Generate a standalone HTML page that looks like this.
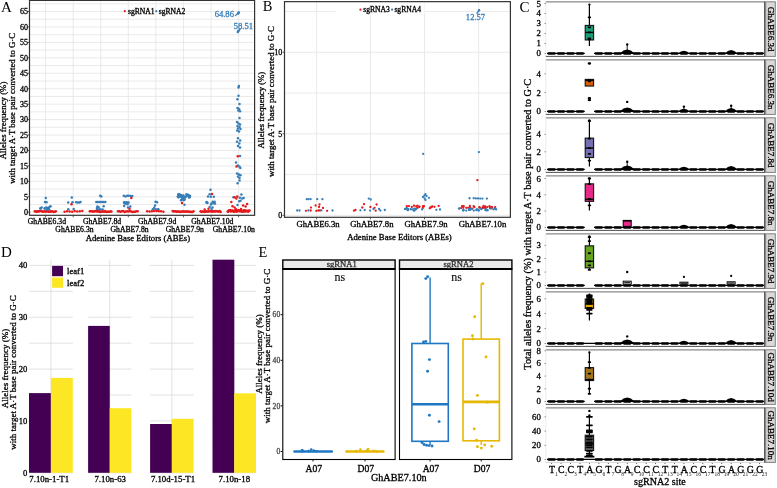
<!DOCTYPE html>
<html><head><meta charset="utf-8"><style>
html,body{margin:0;padding:0;background:#fff;}
body{width:777px;height:488px;overflow:hidden;}
svg{display:block;will-change:transform;}
svg text{font-family:"Liberation Serif",serif;}
</style></head><body>
<svg width="777" height="488" viewBox="0 0 777 488">
<rect x="0" y="0" width="777" height="488" fill="#fff"/>
<line x1="29.00" y1="472.80" x2="72.80" y2="472.80" stroke="#dadada" stroke-width="0.8" />
<line x1="29.00" y1="446.88" x2="72.80" y2="446.88" stroke="#dadada" stroke-width="0.8" />
<line x1="29.00" y1="420.95" x2="72.80" y2="420.95" stroke="#dadada" stroke-width="0.8" />
<line x1="29.00" y1="395.03" x2="72.80" y2="395.03" stroke="#dadada" stroke-width="0.8" />
<line x1="29.00" y1="369.10" x2="72.80" y2="369.10" stroke="#dadada" stroke-width="0.8" />
<line x1="29.00" y1="343.18" x2="72.80" y2="343.18" stroke="#dadada" stroke-width="0.8" />
<line x1="29.00" y1="317.25" x2="72.80" y2="317.25" stroke="#dadada" stroke-width="0.8" />
<line x1="29.00" y1="291.33" x2="72.80" y2="291.33" stroke="#dadada" stroke-width="0.8" />
<line x1="29.00" y1="265.40" x2="72.80" y2="265.40" stroke="#dadada" stroke-width="0.8" />
<line x1="50.90" y1="259.70" x2="50.90" y2="472.80" stroke="#dadada" stroke-width="0.8" />
<rect x="29.00" y="393.10" width="21.90" height="79.70" fill="#440154" stroke="none" stroke-width="1" />
<rect x="50.90" y="377.90" width="21.90" height="94.90" fill="#fde725" stroke="none" stroke-width="1" />
<line x1="88.10" y1="472.80" x2="131.40" y2="472.80" stroke="#dadada" stroke-width="0.8" />
<line x1="88.10" y1="446.88" x2="131.40" y2="446.88" stroke="#dadada" stroke-width="0.8" />
<line x1="88.10" y1="420.95" x2="131.40" y2="420.95" stroke="#dadada" stroke-width="0.8" />
<line x1="88.10" y1="395.03" x2="131.40" y2="395.03" stroke="#dadada" stroke-width="0.8" />
<line x1="88.10" y1="369.10" x2="131.40" y2="369.10" stroke="#dadada" stroke-width="0.8" />
<line x1="88.10" y1="343.18" x2="131.40" y2="343.18" stroke="#dadada" stroke-width="0.8" />
<line x1="88.10" y1="317.25" x2="131.40" y2="317.25" stroke="#dadada" stroke-width="0.8" />
<line x1="88.10" y1="291.33" x2="131.40" y2="291.33" stroke="#dadada" stroke-width="0.8" />
<line x1="88.10" y1="265.40" x2="131.40" y2="265.40" stroke="#dadada" stroke-width="0.8" />
<line x1="109.75" y1="259.70" x2="109.75" y2="472.80" stroke="#dadada" stroke-width="0.8" />
<rect x="88.10" y="325.90" width="21.65" height="146.90" fill="#440154" stroke="none" stroke-width="1" />
<rect x="109.75" y="408.20" width="21.65" height="64.60" fill="#fde725" stroke="none" stroke-width="1" />
<line x1="150.10" y1="472.80" x2="193.60" y2="472.80" stroke="#dadada" stroke-width="0.8" />
<line x1="150.10" y1="446.88" x2="193.60" y2="446.88" stroke="#dadada" stroke-width="0.8" />
<line x1="150.10" y1="420.95" x2="193.60" y2="420.95" stroke="#dadada" stroke-width="0.8" />
<line x1="150.10" y1="395.03" x2="193.60" y2="395.03" stroke="#dadada" stroke-width="0.8" />
<line x1="150.10" y1="369.10" x2="193.60" y2="369.10" stroke="#dadada" stroke-width="0.8" />
<line x1="150.10" y1="343.18" x2="193.60" y2="343.18" stroke="#dadada" stroke-width="0.8" />
<line x1="150.10" y1="317.25" x2="193.60" y2="317.25" stroke="#dadada" stroke-width="0.8" />
<line x1="150.10" y1="291.33" x2="193.60" y2="291.33" stroke="#dadada" stroke-width="0.8" />
<line x1="150.10" y1="265.40" x2="193.60" y2="265.40" stroke="#dadada" stroke-width="0.8" />
<line x1="171.85" y1="259.70" x2="171.85" y2="472.80" stroke="#dadada" stroke-width="0.8" />
<rect x="150.10" y="424.00" width="21.75" height="48.80" fill="#440154" stroke="none" stroke-width="1" />
<rect x="171.85" y="418.80" width="21.75" height="54.00" fill="#fde725" stroke="none" stroke-width="1" />
<line x1="212.50" y1="472.80" x2="256.00" y2="472.80" stroke="#dadada" stroke-width="0.8" />
<line x1="212.50" y1="446.88" x2="256.00" y2="446.88" stroke="#dadada" stroke-width="0.8" />
<line x1="212.50" y1="420.95" x2="256.00" y2="420.95" stroke="#dadada" stroke-width="0.8" />
<line x1="212.50" y1="395.03" x2="256.00" y2="395.03" stroke="#dadada" stroke-width="0.8" />
<line x1="212.50" y1="369.10" x2="256.00" y2="369.10" stroke="#dadada" stroke-width="0.8" />
<line x1="212.50" y1="343.18" x2="256.00" y2="343.18" stroke="#dadada" stroke-width="0.8" />
<line x1="212.50" y1="317.25" x2="256.00" y2="317.25" stroke="#dadada" stroke-width="0.8" />
<line x1="212.50" y1="291.33" x2="256.00" y2="291.33" stroke="#dadada" stroke-width="0.8" />
<line x1="212.50" y1="265.40" x2="256.00" y2="265.40" stroke="#dadada" stroke-width="0.8" />
<line x1="234.25" y1="259.70" x2="234.25" y2="472.80" stroke="#dadada" stroke-width="0.8" />
<rect x="212.50" y="259.70" width="21.75" height="213.10" fill="#440154" stroke="none" stroke-width="1" />
<rect x="234.25" y="393.30" width="21.75" height="79.50" fill="#fde725" stroke="none" stroke-width="1" />
<text x="27.40" y="475.80" font-size="8.6" text-anchor="end" fill="#000" stroke="#000" stroke-width="0.3" >0</text>
<text x="27.40" y="423.95" font-size="8.6" text-anchor="end" fill="#000" stroke="#000" stroke-width="0.3" >10</text>
<text x="27.40" y="372.10" font-size="8.6" text-anchor="end" fill="#000" stroke="#000" stroke-width="0.3" >20</text>
<text x="27.40" y="320.25" font-size="8.6" text-anchor="end" fill="#000" stroke="#000" stroke-width="0.3" >30</text>
<text x="27.40" y="268.40" font-size="8.6" text-anchor="end" fill="#000" stroke="#000" stroke-width="0.3" >40</text>
<text x="49.20" y="481.90" font-size="8.8" text-anchor="middle" fill="#000" stroke="#000" stroke-width="0.3" >7.10n-1-T1</text>
<text x="110.20" y="481.90" font-size="8.8" text-anchor="middle" fill="#000" stroke="#000" stroke-width="0.3" >7.10n-63</text>
<text x="173.00" y="481.90" font-size="8.8" text-anchor="middle" fill="#000" stroke="#000" stroke-width="0.3" >7.10d-15-T1</text>
<text x="234.30" y="481.90" font-size="8.8" text-anchor="middle" fill="#000" stroke="#000" stroke-width="0.3" >7.10n-18</text>
<rect x="52.10" y="265.90" width="10.90" height="10.30" fill="#440154" stroke="none" stroke-width="1" />
<text x="67.00" y="274.00" font-size="8.6" text-anchor="start" fill="#000" stroke="#000" stroke-width="0.3" >leaf1</text>
<rect x="52.10" y="277.50" width="10.90" height="10.30" fill="#fde725" stroke="none" stroke-width="1" />
<text x="67.00" y="285.60" font-size="8.6" text-anchor="start" fill="#000" stroke="#000" stroke-width="0.3" >leaf2</text>
<text x="7.60" y="368.50" font-size="9.0" text-anchor="middle" fill="#000" stroke="#000" stroke-width="0.3"  transform="rotate(-90 7.60 368.50)">Alleles frequency (%)</text>
<text x="15.60" y="372.50" font-size="9.0" text-anchor="middle" fill="#000" stroke="#000" stroke-width="0.3"  transform="rotate(-90 15.60 372.50)">with target A&#183;T base pair converted to G&#183;C</text>
<text x="1.10" y="256.80" font-size="15" text-anchor="start" fill="#000"  >D</text>
<rect x="282.80" y="269.00" width="112.30" height="190.50" fill="#fff" stroke="#000" stroke-width="1.1" />
<rect x="282.80" y="260.00" width="112.30" height="9.00" fill="#ebebeb" stroke="#000" stroke-width="1.4" />
<line x1="282.80" y1="269.00" x2="395.10" y2="269.00" stroke="#000" stroke-width="1.8" />
<text x="341.75" y="267.40" font-size="8.6" text-anchor="middle" fill="#333" stroke="#333" stroke-width="0.3" >sgRNA1</text>
<text x="339.85" y="280.50" font-size="12" text-anchor="middle" fill="#000" stroke="#000" stroke-width="0.1" >ns</text>
<rect x="399.50" y="269.00" width="112.40" height="190.50" fill="#fff" stroke="#000" stroke-width="1.1" />
<rect x="399.50" y="260.00" width="112.40" height="9.00" fill="#ebebeb" stroke="#000" stroke-width="1.4" />
<line x1="399.50" y1="269.00" x2="511.90" y2="269.00" stroke="#000" stroke-width="1.8" />
<text x="458.50" y="267.40" font-size="8.6" text-anchor="middle" fill="#333" stroke="#333" stroke-width="0.3" >sgRNA2</text>
<text x="456.60" y="280.50" font-size="12" text-anchor="middle" fill="#000" stroke="#000" stroke-width="0.1" >ns</text>
<line x1="294.50" y1="451.50" x2="331.80" y2="451.50" stroke="#1f78c1" stroke-width="2.6" stroke-linecap="round"/>
<circle cx="308.77" cy="451.12" r="1.3" fill="#1f78c1"/>
<circle cx="316.62" cy="451.32" r="1.3" fill="#1f78c1"/>
<circle cx="313.86" cy="450.59" r="1.3" fill="#1f78c1"/>
<circle cx="302.39" cy="450.23" r="1.3" fill="#1f78c1"/>
<circle cx="301.90" cy="450.42" r="1.3" fill="#1f78c1"/>
<circle cx="302.68" cy="451.27" r="1.3" fill="#1f78c1"/>
<circle cx="311.19" cy="449.43" r="1.3" fill="#1f78c1"/>
<line x1="346.40" y1="451.50" x2="383.40" y2="451.50" stroke="#e6b800" stroke-width="2.6" stroke-linecap="round"/>
<circle cx="355.97" cy="450.94" r="1.3" fill="#e6b800"/>
<circle cx="368.06" cy="449.13" r="1.3" fill="#e6b800"/>
<circle cx="366.85" cy="450.51" r="1.3" fill="#e6b800"/>
<circle cx="376.43" cy="451.38" r="1.3" fill="#e6b800"/>
<circle cx="373.60" cy="450.78" r="1.3" fill="#e6b800"/>
<circle cx="356.46" cy="451.21" r="1.3" fill="#e6b800"/>
<circle cx="360.40" cy="449.46" r="1.3" fill="#e6b800"/>
<line x1="430.10" y1="277.50" x2="430.10" y2="343.50" stroke="#1f78c1" stroke-width="1.4" />
<line x1="430.10" y1="441.30" x2="430.10" y2="445.00" stroke="#1f78c1" stroke-width="1.4" />
<rect x="411.90" y="343.50" width="36.40" height="97.80" fill="none" stroke="#1f78c1" stroke-width="1.6" />
<line x1="411.90" y1="404.30" x2="448.30" y2="404.30" stroke="#1f78c1" stroke-width="2.6" />
<line x1="481.20" y1="283.30" x2="481.20" y2="339.10" stroke="#e6b800" stroke-width="1.4" />
<line x1="481.20" y1="440.80" x2="481.20" y2="445.00" stroke="#e6b800" stroke-width="1.4" />
<rect x="463.00" y="339.10" width="36.40" height="101.70" fill="none" stroke="#e6b800" stroke-width="1.6" />
<line x1="463.00" y1="401.90" x2="499.40" y2="401.90" stroke="#e6b800" stroke-width="2.6" />
<circle cx="425.80" cy="278.60" r="1.45" fill="#1f78c1"/>
<circle cx="427.60" cy="276.80" r="1.45" fill="#1f78c1"/>
<circle cx="423.50" cy="342.00" r="1.45" fill="#1f78c1"/>
<circle cx="425.80" cy="341.40" r="1.45" fill="#1f78c1"/>
<circle cx="429.40" cy="359.60" r="1.45" fill="#1f78c1"/>
<circle cx="427.60" cy="371.20" r="1.45" fill="#1f78c1"/>
<circle cx="429.40" cy="415.30" r="1.45" fill="#1f78c1"/>
<circle cx="439.10" cy="421.60" r="1.45" fill="#1f78c1"/>
<circle cx="422.00" cy="442.50" r="1.45" fill="#1f78c1"/>
<circle cx="424.00" cy="444.50" r="1.45" fill="#1f78c1"/>
<circle cx="426.50" cy="445.20" r="1.45" fill="#1f78c1"/>
<circle cx="429.00" cy="445.60" r="1.45" fill="#1f78c1"/>
<circle cx="432.00" cy="446.00" r="1.45" fill="#1f78c1"/>
<circle cx="482.90" cy="283.60" r="1.45" fill="#e6b800"/>
<circle cx="474.70" cy="316.70" r="1.45" fill="#e6b800"/>
<circle cx="472.40" cy="335.70" r="1.45" fill="#e6b800"/>
<circle cx="473.00" cy="339.00" r="1.45" fill="#e6b800"/>
<circle cx="486.00" cy="356.90" r="1.45" fill="#e6b800"/>
<circle cx="477.40" cy="395.40" r="1.45" fill="#e6b800"/>
<circle cx="487.70" cy="402.20" r="1.45" fill="#e6b800"/>
<circle cx="474.20" cy="428.90" r="1.45" fill="#e6b800"/>
<circle cx="476.50" cy="440.30" r="1.45" fill="#e6b800"/>
<circle cx="484.70" cy="444.90" r="1.45" fill="#e6b800"/>
<circle cx="491.70" cy="446.30" r="1.45" fill="#e6b800"/>
<circle cx="477.40" cy="446.80" r="1.45" fill="#e6b800"/>
<circle cx="481.40" cy="448.10" r="1.45" fill="#e6b800"/>
<line x1="280.60" y1="451.50" x2="282.40" y2="451.50" stroke="#000" stroke-width="1.0" />
<text x="280.20" y="454.10" font-size="7.6" text-anchor="end" fill="#4d4d4d" stroke="#4d4d4d" stroke-width="0.3" >0</text>
<line x1="280.60" y1="405.90" x2="282.40" y2="405.90" stroke="#000" stroke-width="1.0" />
<text x="280.20" y="408.50" font-size="7.6" text-anchor="end" fill="#4d4d4d" stroke="#4d4d4d" stroke-width="0.3" >20</text>
<line x1="280.60" y1="360.30" x2="282.40" y2="360.30" stroke="#000" stroke-width="1.0" />
<text x="280.20" y="362.90" font-size="7.6" text-anchor="end" fill="#4d4d4d" stroke="#4d4d4d" stroke-width="0.3" >40</text>
<line x1="280.60" y1="314.70" x2="282.40" y2="314.70" stroke="#000" stroke-width="1.0" />
<text x="280.20" y="317.30" font-size="7.6" text-anchor="end" fill="#4d4d4d" stroke="#4d4d4d" stroke-width="0.3" >60</text>
<line x1="313.00" y1="459.50" x2="313.00" y2="461.50" stroke="#000" stroke-width="0.9" />
<text x="313.80" y="471.60" font-size="9.6" text-anchor="middle" fill="#000" stroke="#000" stroke-width="0.3" >A07</text>
<line x1="365.00" y1="459.50" x2="365.00" y2="461.50" stroke="#000" stroke-width="0.9" />
<text x="365.80" y="471.60" font-size="9.6" text-anchor="middle" fill="#000" stroke="#000" stroke-width="0.3" >D07</text>
<line x1="430.10" y1="459.50" x2="430.10" y2="461.50" stroke="#000" stroke-width="0.9" />
<text x="430.90" y="471.60" font-size="9.6" text-anchor="middle" fill="#000" stroke="#000" stroke-width="0.3" >A07</text>
<line x1="481.20" y1="459.50" x2="481.20" y2="461.50" stroke="#000" stroke-width="0.9" />
<text x="482.00" y="471.60" font-size="9.6" text-anchor="middle" fill="#000" stroke="#000" stroke-width="0.3" >D07</text>
<text x="398.80" y="481.20" font-size="10.2" text-anchor="middle" fill="#000" stroke="#000" stroke-width="0.3" >GhABE7.10n</text>
<text x="262.30" y="354.00" font-size="9.0" text-anchor="middle" fill="#000" stroke="#000" stroke-width="0.3"  transform="rotate(-90 262.30 354.00)">Alleles frequency (%)</text>
<text x="269.70" y="346.00" font-size="9.0" text-anchor="middle" fill="#000" stroke="#000" stroke-width="0.3"  transform="rotate(-90 269.70 346.00)">with target A&#183;T base pair converted to G&#183;C</text>
<text x="258.50" y="256.60" font-size="14.5" text-anchor="start" fill="#000"  >E</text>
<line x1="29.50" y1="212.20" x2="254.60" y2="212.20" stroke="#e4e4e4" stroke-width="0.8" />
<line x1="29.50" y1="204.48" x2="254.60" y2="204.48" stroke="#e4e4e4" stroke-width="0.8" />
<line x1="29.50" y1="196.76" x2="254.60" y2="196.76" stroke="#e4e4e4" stroke-width="0.8" />
<line x1="29.50" y1="189.05" x2="254.60" y2="189.05" stroke="#e4e4e4" stroke-width="0.8" />
<line x1="29.50" y1="181.33" x2="254.60" y2="181.33" stroke="#e4e4e4" stroke-width="0.8" />
<line x1="29.50" y1="173.61" x2="254.60" y2="173.61" stroke="#e4e4e4" stroke-width="0.8" />
<line x1="29.50" y1="165.89" x2="254.60" y2="165.89" stroke="#e4e4e4" stroke-width="0.8" />
<line x1="29.50" y1="158.18" x2="254.60" y2="158.18" stroke="#e4e4e4" stroke-width="0.8" />
<line x1="29.50" y1="150.46" x2="254.60" y2="150.46" stroke="#e4e4e4" stroke-width="0.8" />
<line x1="29.50" y1="142.74" x2="254.60" y2="142.74" stroke="#e4e4e4" stroke-width="0.8" />
<line x1="29.50" y1="135.02" x2="254.60" y2="135.02" stroke="#e4e4e4" stroke-width="0.8" />
<line x1="29.50" y1="127.31" x2="254.60" y2="127.31" stroke="#e4e4e4" stroke-width="0.8" />
<line x1="29.50" y1="119.59" x2="254.60" y2="119.59" stroke="#e4e4e4" stroke-width="0.8" />
<line x1="29.50" y1="111.87" x2="254.60" y2="111.87" stroke="#e4e4e4" stroke-width="0.8" />
<line x1="29.50" y1="104.15" x2="254.60" y2="104.15" stroke="#e4e4e4" stroke-width="0.8" />
<line x1="29.50" y1="96.44" x2="254.60" y2="96.44" stroke="#e4e4e4" stroke-width="0.8" />
<line x1="29.50" y1="88.72" x2="254.60" y2="88.72" stroke="#e4e4e4" stroke-width="0.8" />
<line x1="29.50" y1="81.00" x2="254.60" y2="81.00" stroke="#e4e4e4" stroke-width="0.8" />
<line x1="29.50" y1="73.28" x2="254.60" y2="73.28" stroke="#e4e4e4" stroke-width="0.8" />
<line x1="29.50" y1="65.57" x2="254.60" y2="65.57" stroke="#e4e4e4" stroke-width="0.8" />
<line x1="29.50" y1="57.85" x2="254.60" y2="57.85" stroke="#e4e4e4" stroke-width="0.8" />
<line x1="29.50" y1="50.13" x2="254.60" y2="50.13" stroke="#e4e4e4" stroke-width="0.8" />
<line x1="29.50" y1="42.41" x2="254.60" y2="42.41" stroke="#e4e4e4" stroke-width="0.8" />
<line x1="29.50" y1="34.70" x2="254.60" y2="34.70" stroke="#e4e4e4" stroke-width="0.8" />
<line x1="29.50" y1="26.98" x2="254.60" y2="26.98" stroke="#e4e4e4" stroke-width="0.8" />
<line x1="29.50" y1="19.26" x2="254.60" y2="19.26" stroke="#e4e4e4" stroke-width="0.8" />
<line x1="29.50" y1="11.54" x2="254.60" y2="11.54" stroke="#e4e4e4" stroke-width="0.8" />
<line x1="29.50" y1="3.83" x2="254.60" y2="3.83" stroke="#e4e4e4" stroke-width="0.8" />
<line x1="45.60" y1="0.40" x2="45.60" y2="215.30" stroke="#e4e4e4" stroke-width="0.8" />
<line x1="73.17" y1="0.40" x2="73.17" y2="215.30" stroke="#e4e4e4" stroke-width="0.8" />
<line x1="100.74" y1="0.40" x2="100.74" y2="215.30" stroke="#e4e4e4" stroke-width="0.8" />
<line x1="128.31" y1="0.40" x2="128.31" y2="215.30" stroke="#e4e4e4" stroke-width="0.8" />
<line x1="155.88" y1="0.40" x2="155.88" y2="215.30" stroke="#e4e4e4" stroke-width="0.8" />
<line x1="183.45" y1="0.40" x2="183.45" y2="215.30" stroke="#e4e4e4" stroke-width="0.8" />
<line x1="211.02" y1="0.40" x2="211.02" y2="215.30" stroke="#e4e4e4" stroke-width="0.8" />
<line x1="238.59" y1="0.40" x2="238.59" y2="215.30" stroke="#e4e4e4" stroke-width="0.8" />
<circle cx="34.80" cy="211.18" r="1.25" fill="#e41a1c"/>
<circle cx="35.80" cy="211.58" r="1.25" fill="#e41a1c"/>
<circle cx="36.80" cy="211.64" r="1.25" fill="#e41a1c"/>
<circle cx="37.80" cy="211.37" r="1.25" fill="#e41a1c"/>
<circle cx="38.80" cy="211.55" r="1.25" fill="#e41a1c"/>
<circle cx="39.80" cy="211.06" r="1.25" fill="#e41a1c"/>
<circle cx="40.80" cy="211.06" r="1.25" fill="#e41a1c"/>
<circle cx="41.80" cy="211.21" r="1.25" fill="#e41a1c"/>
<circle cx="42.80" cy="211.68" r="1.25" fill="#e41a1c"/>
<circle cx="43.80" cy="211.43" r="1.25" fill="#e41a1c"/>
<circle cx="44.80" cy="211.31" r="1.25" fill="#e41a1c"/>
<circle cx="45.80" cy="211.59" r="1.25" fill="#e41a1c"/>
<circle cx="46.80" cy="211.45" r="1.25" fill="#e41a1c"/>
<circle cx="47.80" cy="211.30" r="1.25" fill="#e41a1c"/>
<circle cx="48.80" cy="211.79" r="1.25" fill="#e41a1c"/>
<circle cx="49.80" cy="211.70" r="1.25" fill="#e41a1c"/>
<circle cx="50.80" cy="211.24" r="1.25" fill="#e41a1c"/>
<circle cx="51.80" cy="211.57" r="1.25" fill="#e41a1c"/>
<circle cx="52.80" cy="211.53" r="1.25" fill="#e41a1c"/>
<circle cx="53.80" cy="211.88" r="1.25" fill="#e41a1c"/>
<circle cx="54.80" cy="211.73" r="1.25" fill="#e41a1c"/>
<circle cx="55.80" cy="211.29" r="1.25" fill="#e41a1c"/>
<circle cx="45.80" cy="198.10" r="1.25" fill="#377eb8"/>
<circle cx="45.00" cy="202.10" r="1.25" fill="#377eb8"/>
<circle cx="46.50" cy="202.30" r="1.25" fill="#377eb8"/>
<circle cx="50.59" cy="206.24" r="1.25" fill="#377eb8"/>
<circle cx="44.52" cy="208.60" r="1.25" fill="#377eb8"/>
<circle cx="41.64" cy="207.61" r="1.25" fill="#377eb8"/>
<circle cx="40.42" cy="208.27" r="1.25" fill="#377eb8"/>
<circle cx="48.26" cy="207.92" r="1.25" fill="#377eb8"/>
<circle cx="49.46" cy="206.96" r="1.25" fill="#377eb8"/>
<circle cx="47.51" cy="208.00" r="1.25" fill="#377eb8"/>
<circle cx="46.26" cy="207.49" r="1.25" fill="#377eb8"/>
<circle cx="49.07" cy="209.30" r="1.25" fill="#377eb8"/>
<circle cx="45.12" cy="208.26" r="1.25" fill="#377eb8"/>
<circle cx="40.66" cy="208.40" r="1.25" fill="#377eb8"/>
<circle cx="46.99" cy="209.47" r="1.25" fill="#377eb8"/>
<circle cx="71.80" cy="197.40" r="1.25" fill="#377eb8"/>
<circle cx="68.20" cy="202.40" r="1.25" fill="#377eb8"/>
<circle cx="72.50" cy="202.20" r="1.25" fill="#377eb8"/>
<circle cx="76.20" cy="202.30" r="1.25" fill="#377eb8"/>
<circle cx="77.80" cy="202.60" r="1.25" fill="#377eb8"/>
<circle cx="79.30" cy="202.40" r="1.25" fill="#377eb8"/>
<circle cx="80.50" cy="202.10" r="1.25" fill="#377eb8"/>
<circle cx="71.50" cy="204.30" r="1.25" fill="#e41a1c"/>
<circle cx="68.30" cy="209.30" r="1.25" fill="#377eb8"/>
<circle cx="73.70" cy="209.00" r="1.25" fill="#377eb8"/>
<circle cx="64.60" cy="211.82" r="1.25" fill="#e41a1c"/>
<circle cx="67.13" cy="211.28" r="1.25" fill="#e41a1c"/>
<circle cx="69.66" cy="211.39" r="1.25" fill="#e41a1c"/>
<circle cx="72.19" cy="211.67" r="1.25" fill="#e41a1c"/>
<circle cx="74.71" cy="211.02" r="1.25" fill="#e41a1c"/>
<circle cx="77.24" cy="211.46" r="1.25" fill="#e41a1c"/>
<circle cx="79.77" cy="211.17" r="1.25" fill="#e41a1c"/>
<circle cx="82.30" cy="211.12" r="1.25" fill="#e41a1c"/>
<circle cx="100.20" cy="195.70" r="1.25" fill="#377eb8"/>
<circle cx="101.30" cy="196.60" r="1.25" fill="#377eb8"/>
<circle cx="96.30" cy="201.90" r="1.25" fill="#377eb8"/>
<circle cx="97.80" cy="201.90" r="1.25" fill="#377eb8"/>
<circle cx="99.30" cy="201.90" r="1.25" fill="#377eb8"/>
<circle cx="100.80" cy="201.90" r="1.25" fill="#377eb8"/>
<circle cx="102.30" cy="201.90" r="1.25" fill="#377eb8"/>
<circle cx="103.80" cy="201.90" r="1.25" fill="#377eb8"/>
<circle cx="105.30" cy="201.90" r="1.25" fill="#377eb8"/>
<circle cx="96.94" cy="208.96" r="1.25" fill="#377eb8"/>
<circle cx="97.47" cy="206.61" r="1.25" fill="#377eb8"/>
<circle cx="99.43" cy="209.42" r="1.25" fill="#377eb8"/>
<circle cx="97.10" cy="207.52" r="1.25" fill="#377eb8"/>
<circle cx="100.62" cy="209.48" r="1.25" fill="#377eb8"/>
<circle cx="102.64" cy="209.39" r="1.25" fill="#377eb8"/>
<circle cx="98.59" cy="207.37" r="1.25" fill="#377eb8"/>
<circle cx="99.19" cy="209.48" r="1.25" fill="#377eb8"/>
<circle cx="103.68" cy="206.18" r="1.25" fill="#377eb8"/>
<circle cx="89.80" cy="211.18" r="1.25" fill="#e41a1c"/>
<circle cx="90.83" cy="211.23" r="1.25" fill="#e41a1c"/>
<circle cx="91.86" cy="211.23" r="1.25" fill="#e41a1c"/>
<circle cx="92.89" cy="211.48" r="1.25" fill="#e41a1c"/>
<circle cx="93.91" cy="211.59" r="1.25" fill="#e41a1c"/>
<circle cx="94.94" cy="211.26" r="1.25" fill="#e41a1c"/>
<circle cx="95.97" cy="211.00" r="1.25" fill="#e41a1c"/>
<circle cx="97.00" cy="211.42" r="1.25" fill="#e41a1c"/>
<circle cx="98.03" cy="211.37" r="1.25" fill="#e41a1c"/>
<circle cx="99.06" cy="211.57" r="1.25" fill="#e41a1c"/>
<circle cx="100.09" cy="211.95" r="1.25" fill="#e41a1c"/>
<circle cx="101.11" cy="211.69" r="1.25" fill="#e41a1c"/>
<circle cx="102.14" cy="211.52" r="1.25" fill="#e41a1c"/>
<circle cx="103.17" cy="211.62" r="1.25" fill="#e41a1c"/>
<circle cx="104.20" cy="211.68" r="1.25" fill="#e41a1c"/>
<circle cx="105.23" cy="211.05" r="1.25" fill="#e41a1c"/>
<circle cx="106.26" cy="211.90" r="1.25" fill="#e41a1c"/>
<circle cx="107.29" cy="211.78" r="1.25" fill="#e41a1c"/>
<circle cx="108.31" cy="211.87" r="1.25" fill="#e41a1c"/>
<circle cx="109.34" cy="211.80" r="1.25" fill="#e41a1c"/>
<circle cx="110.37" cy="211.39" r="1.25" fill="#e41a1c"/>
<circle cx="111.40" cy="211.40" r="1.25" fill="#e41a1c"/>
<circle cx="123.80" cy="195.81" r="1.25" fill="#377eb8"/>
<circle cx="125.50" cy="196.40" r="1.25" fill="#377eb8"/>
<circle cx="127.20" cy="195.77" r="1.25" fill="#377eb8"/>
<circle cx="128.90" cy="195.77" r="1.25" fill="#377eb8"/>
<circle cx="130.60" cy="195.93" r="1.25" fill="#377eb8"/>
<circle cx="132.30" cy="195.88" r="1.25" fill="#377eb8"/>
<circle cx="131.30" cy="198.00" r="1.25" fill="#e41a1c"/>
<circle cx="126.55" cy="202.14" r="1.25" fill="#377eb8"/>
<circle cx="124.00" cy="202.60" r="1.25" fill="#377eb8"/>
<circle cx="124.76" cy="203.57" r="1.25" fill="#377eb8"/>
<circle cx="124.19" cy="205.92" r="1.25" fill="#377eb8"/>
<circle cx="128.61" cy="202.58" r="1.25" fill="#377eb8"/>
<circle cx="125.89" cy="203.50" r="1.25" fill="#377eb8"/>
<circle cx="126.73" cy="202.47" r="1.25" fill="#377eb8"/>
<circle cx="130.37" cy="206.47" r="1.25" fill="#377eb8"/>
<circle cx="127.49" cy="204.13" r="1.25" fill="#377eb8"/>
<circle cx="124.64" cy="202.37" r="1.25" fill="#377eb8"/>
<circle cx="128.00" cy="207.60" r="1.25" fill="#377eb8"/>
<circle cx="129.50" cy="208.80" r="1.25" fill="#e41a1c"/>
<circle cx="118.00" cy="211.34" r="1.25" fill="#e41a1c"/>
<circle cx="119.31" cy="211.26" r="1.25" fill="#e41a1c"/>
<circle cx="120.63" cy="211.83" r="1.25" fill="#e41a1c"/>
<circle cx="121.94" cy="211.16" r="1.25" fill="#e41a1c"/>
<circle cx="123.25" cy="211.02" r="1.25" fill="#e41a1c"/>
<circle cx="124.57" cy="211.95" r="1.25" fill="#e41a1c"/>
<circle cx="125.88" cy="211.53" r="1.25" fill="#e41a1c"/>
<circle cx="127.19" cy="211.15" r="1.25" fill="#e41a1c"/>
<circle cx="128.51" cy="211.54" r="1.25" fill="#e41a1c"/>
<circle cx="129.82" cy="211.03" r="1.25" fill="#e41a1c"/>
<circle cx="131.13" cy="211.53" r="1.25" fill="#e41a1c"/>
<circle cx="132.45" cy="211.98" r="1.25" fill="#e41a1c"/>
<circle cx="133.76" cy="211.86" r="1.25" fill="#e41a1c"/>
<circle cx="135.07" cy="211.70" r="1.25" fill="#e41a1c"/>
<circle cx="136.39" cy="211.26" r="1.25" fill="#e41a1c"/>
<circle cx="137.70" cy="211.37" r="1.25" fill="#e41a1c"/>
<circle cx="155.50" cy="201.80" r="1.25" fill="#377eb8"/>
<circle cx="157.00" cy="202.30" r="1.25" fill="#377eb8"/>
<circle cx="155.00" cy="205.50" r="1.25" fill="#377eb8"/>
<circle cx="152.84" cy="209.32" r="1.25" fill="#377eb8"/>
<circle cx="155.76" cy="209.34" r="1.25" fill="#377eb8"/>
<circle cx="154.14" cy="207.67" r="1.25" fill="#377eb8"/>
<circle cx="157.99" cy="209.95" r="1.25" fill="#377eb8"/>
<circle cx="158.32" cy="209.42" r="1.25" fill="#377eb8"/>
<circle cx="158.05" cy="209.22" r="1.25" fill="#377eb8"/>
<circle cx="147.20" cy="211.23" r="1.25" fill="#e41a1c"/>
<circle cx="149.51" cy="211.52" r="1.25" fill="#e41a1c"/>
<circle cx="151.83" cy="211.36" r="1.25" fill="#e41a1c"/>
<circle cx="154.14" cy="211.03" r="1.25" fill="#e41a1c"/>
<circle cx="156.46" cy="211.03" r="1.25" fill="#e41a1c"/>
<circle cx="158.77" cy="211.28" r="1.25" fill="#e41a1c"/>
<circle cx="161.09" cy="211.26" r="1.25" fill="#e41a1c"/>
<circle cx="163.40" cy="211.69" r="1.25" fill="#e41a1c"/>
<circle cx="189.61" cy="196.00" r="1.25" fill="#377eb8"/>
<circle cx="189.34" cy="197.56" r="1.25" fill="#377eb8"/>
<circle cx="189.59" cy="195.75" r="1.25" fill="#377eb8"/>
<circle cx="179.60" cy="194.63" r="1.25" fill="#377eb8"/>
<circle cx="179.28" cy="194.63" r="1.25" fill="#377eb8"/>
<circle cx="185.09" cy="197.17" r="1.25" fill="#377eb8"/>
<circle cx="188.03" cy="195.74" r="1.25" fill="#377eb8"/>
<circle cx="185.48" cy="196.75" r="1.25" fill="#377eb8"/>
<circle cx="177.75" cy="196.53" r="1.25" fill="#377eb8"/>
<circle cx="188.97" cy="196.91" r="1.25" fill="#377eb8"/>
<circle cx="186.80" cy="195.54" r="1.25" fill="#377eb8"/>
<circle cx="179.03" cy="196.83" r="1.25" fill="#377eb8"/>
<circle cx="181.12" cy="196.76" r="1.25" fill="#377eb8"/>
<circle cx="189.81" cy="195.91" r="1.25" fill="#377eb8"/>
<circle cx="182.06" cy="197.37" r="1.25" fill="#377eb8"/>
<circle cx="186.46" cy="194.25" r="1.25" fill="#377eb8"/>
<circle cx="178.33" cy="194.72" r="1.25" fill="#377eb8"/>
<circle cx="188.91" cy="196.98" r="1.25" fill="#377eb8"/>
<circle cx="178.59" cy="196.99" r="1.25" fill="#377eb8"/>
<circle cx="189.93" cy="196.66" r="1.25" fill="#377eb8"/>
<circle cx="181.37" cy="195.69" r="1.25" fill="#377eb8"/>
<circle cx="178.38" cy="194.23" r="1.25" fill="#377eb8"/>
<circle cx="189.80" cy="196.62" r="1.25" fill="#377eb8"/>
<circle cx="183.76" cy="197.31" r="1.25" fill="#377eb8"/>
<circle cx="182.50" cy="197.04" r="1.25" fill="#377eb8"/>
<circle cx="187.84" cy="194.73" r="1.25" fill="#377eb8"/>
<circle cx="180.02" cy="194.80" r="1.25" fill="#377eb8"/>
<circle cx="179.87" cy="195.98" r="1.25" fill="#377eb8"/>
<circle cx="180.13" cy="195.29" r="1.25" fill="#377eb8"/>
<circle cx="178.38" cy="197.29" r="1.25" fill="#377eb8"/>
<circle cx="181.41" cy="195.30" r="1.25" fill="#377eb8"/>
<circle cx="184.53" cy="197.18" r="1.25" fill="#377eb8"/>
<circle cx="182.32" cy="197.24" r="1.25" fill="#377eb8"/>
<circle cx="183.42" cy="195.54" r="1.25" fill="#377eb8"/>
<circle cx="183.62" cy="197.57" r="1.25" fill="#377eb8"/>
<circle cx="183.20" cy="198.14" r="1.25" fill="#377eb8"/>
<circle cx="181.02" cy="200.30" r="1.25" fill="#377eb8"/>
<circle cx="181.86" cy="199.16" r="1.25" fill="#377eb8"/>
<circle cx="184.63" cy="199.45" r="1.25" fill="#377eb8"/>
<circle cx="182.63" cy="199.31" r="1.25" fill="#377eb8"/>
<circle cx="183.78" cy="200.24" r="1.25" fill="#377eb8"/>
<circle cx="182.00" cy="203.00" r="1.25" fill="#e41a1c"/>
<circle cx="184.50" cy="204.80" r="1.25" fill="#377eb8"/>
<circle cx="172.60" cy="211.11" r="1.25" fill="#e41a1c"/>
<circle cx="173.60" cy="211.56" r="1.25" fill="#e41a1c"/>
<circle cx="174.59" cy="211.25" r="1.25" fill="#e41a1c"/>
<circle cx="175.59" cy="211.28" r="1.25" fill="#e41a1c"/>
<circle cx="176.58" cy="211.77" r="1.25" fill="#e41a1c"/>
<circle cx="177.58" cy="211.51" r="1.25" fill="#e41a1c"/>
<circle cx="178.57" cy="211.56" r="1.25" fill="#e41a1c"/>
<circle cx="179.57" cy="211.76" r="1.25" fill="#e41a1c"/>
<circle cx="180.56" cy="211.91" r="1.25" fill="#e41a1c"/>
<circle cx="181.56" cy="211.44" r="1.25" fill="#e41a1c"/>
<circle cx="182.55" cy="211.61" r="1.25" fill="#e41a1c"/>
<circle cx="183.55" cy="211.51" r="1.25" fill="#e41a1c"/>
<circle cx="184.54" cy="211.51" r="1.25" fill="#e41a1c"/>
<circle cx="185.54" cy="211.69" r="1.25" fill="#e41a1c"/>
<circle cx="186.53" cy="211.45" r="1.25" fill="#e41a1c"/>
<circle cx="187.53" cy="211.53" r="1.25" fill="#e41a1c"/>
<circle cx="188.52" cy="211.48" r="1.25" fill="#e41a1c"/>
<circle cx="189.52" cy="211.94" r="1.25" fill="#e41a1c"/>
<circle cx="190.51" cy="211.70" r="1.25" fill="#e41a1c"/>
<circle cx="191.51" cy="211.88" r="1.25" fill="#e41a1c"/>
<circle cx="192.50" cy="211.94" r="1.25" fill="#e41a1c"/>
<circle cx="193.50" cy="211.26" r="1.25" fill="#e41a1c"/>
<circle cx="210.50" cy="189.80" r="1.25" fill="#377eb8"/>
<circle cx="209.70" cy="194.30" r="1.25" fill="#377eb8"/>
<circle cx="212.00" cy="194.00" r="1.25" fill="#e41a1c"/>
<circle cx="208.00" cy="196.40" r="1.25" fill="#377eb8"/>
<circle cx="210.80" cy="196.80" r="1.25" fill="#377eb8"/>
<circle cx="213.80" cy="196.80" r="1.25" fill="#377eb8"/>
<circle cx="211.62" cy="203.39" r="1.25" fill="#377eb8"/>
<circle cx="214.54" cy="201.77" r="1.25" fill="#377eb8"/>
<circle cx="207.06" cy="202.38" r="1.25" fill="#377eb8"/>
<circle cx="206.55" cy="201.98" r="1.25" fill="#377eb8"/>
<circle cx="206.56" cy="202.84" r="1.25" fill="#377eb8"/>
<circle cx="213.95" cy="203.29" r="1.25" fill="#377eb8"/>
<circle cx="207.41" cy="202.93" r="1.25" fill="#377eb8"/>
<circle cx="212.67" cy="201.79" r="1.25" fill="#377eb8"/>
<circle cx="214.98" cy="203.44" r="1.25" fill="#377eb8"/>
<circle cx="211.00" cy="204.50" r="1.25" fill="#377eb8"/>
<circle cx="209.70" cy="207.00" r="1.25" fill="#377eb8"/>
<circle cx="212.50" cy="207.50" r="1.25" fill="#377eb8"/>
<circle cx="211.50" cy="209.00" r="1.25" fill="#377eb8"/>
<circle cx="204.70" cy="209.50" r="1.25" fill="#e41a1c"/>
<circle cx="208.50" cy="208.80" r="1.25" fill="#e41a1c"/>
<circle cx="200.60" cy="211.22" r="1.25" fill="#e41a1c"/>
<circle cx="201.56" cy="211.95" r="1.25" fill="#e41a1c"/>
<circle cx="202.51" cy="211.40" r="1.25" fill="#e41a1c"/>
<circle cx="203.47" cy="211.49" r="1.25" fill="#e41a1c"/>
<circle cx="204.43" cy="211.99" r="1.25" fill="#e41a1c"/>
<circle cx="205.39" cy="211.83" r="1.25" fill="#e41a1c"/>
<circle cx="206.34" cy="211.16" r="1.25" fill="#e41a1c"/>
<circle cx="207.30" cy="211.43" r="1.25" fill="#e41a1c"/>
<circle cx="208.26" cy="211.52" r="1.25" fill="#e41a1c"/>
<circle cx="209.21" cy="211.34" r="1.25" fill="#e41a1c"/>
<circle cx="210.17" cy="211.20" r="1.25" fill="#e41a1c"/>
<circle cx="211.13" cy="211.32" r="1.25" fill="#e41a1c"/>
<circle cx="212.09" cy="211.72" r="1.25" fill="#e41a1c"/>
<circle cx="213.04" cy="211.02" r="1.25" fill="#e41a1c"/>
<circle cx="214.00" cy="211.55" r="1.25" fill="#e41a1c"/>
<circle cx="214.96" cy="211.44" r="1.25" fill="#e41a1c"/>
<circle cx="215.91" cy="211.02" r="1.25" fill="#e41a1c"/>
<circle cx="216.87" cy="211.33" r="1.25" fill="#e41a1c"/>
<circle cx="217.83" cy="211.62" r="1.25" fill="#e41a1c"/>
<circle cx="218.79" cy="211.51" r="1.25" fill="#e41a1c"/>
<circle cx="219.74" cy="211.06" r="1.25" fill="#e41a1c"/>
<circle cx="220.70" cy="211.99" r="1.25" fill="#e41a1c"/>
<circle cx="238.70" cy="12.60" r="1.25" fill="#377eb8"/>
<circle cx="238.20" cy="13.60" r="1.25" fill="#377eb8"/>
<circle cx="238.40" cy="30.80" r="1.25" fill="#377eb8"/>
<circle cx="237.80" cy="32.00" r="1.25" fill="#377eb8"/>
<circle cx="238.90" cy="86.00" r="1.25" fill="#377eb8"/>
<circle cx="238.50" cy="87.50" r="1.25" fill="#377eb8"/>
<circle cx="238.50" cy="95.70" r="1.25" fill="#377eb8"/>
<circle cx="237.50" cy="99.30" r="1.25" fill="#377eb8"/>
<circle cx="239.50" cy="104.00" r="1.25" fill="#377eb8"/>
<circle cx="237.50" cy="108.00" r="1.25" fill="#377eb8"/>
<circle cx="239.20" cy="109.00" r="1.25" fill="#377eb8"/>
<circle cx="238.30" cy="110.50" r="1.25" fill="#377eb8"/>
<circle cx="240.00" cy="111.30" r="1.25" fill="#377eb8"/>
<circle cx="239.50" cy="118.00" r="1.25" fill="#377eb8"/>
<circle cx="237.00" cy="122.00" r="1.25" fill="#377eb8"/>
<circle cx="238.50" cy="123.50" r="1.25" fill="#377eb8"/>
<circle cx="240.00" cy="124.50" r="1.25" fill="#377eb8"/>
<circle cx="237.50" cy="126.00" r="1.25" fill="#377eb8"/>
<circle cx="239.50" cy="127.00" r="1.25" fill="#377eb8"/>
<circle cx="238.00" cy="128.50" r="1.25" fill="#377eb8"/>
<circle cx="240.50" cy="129.00" r="1.25" fill="#377eb8"/>
<circle cx="237.20" cy="130.50" r="1.25" fill="#377eb8"/>
<circle cx="239.00" cy="131.50" r="1.25" fill="#377eb8"/>
<circle cx="238.00" cy="138.20" r="1.25" fill="#377eb8"/>
<circle cx="240.20" cy="140.50" r="1.25" fill="#377eb8"/>
<circle cx="237.00" cy="141.80" r="1.25" fill="#377eb8"/>
<circle cx="239.30" cy="143.50" r="1.25" fill="#377eb8"/>
<circle cx="238.00" cy="146.00" r="1.25" fill="#377eb8"/>
<circle cx="240.00" cy="147.50" r="1.25" fill="#377eb8"/>
<circle cx="240.00" cy="156.00" r="1.25" fill="#377eb8"/>
<circle cx="236.00" cy="162.60" r="1.25" fill="#377eb8"/>
<circle cx="238.00" cy="165.50" r="1.25" fill="#377eb8"/>
<circle cx="239.50" cy="166.70" r="1.25" fill="#377eb8"/>
<circle cx="240.30" cy="168.00" r="1.25" fill="#377eb8"/>
<circle cx="237.00" cy="173.60" r="1.25" fill="#377eb8"/>
<circle cx="239.00" cy="174.50" r="1.25" fill="#377eb8"/>
<circle cx="240.50" cy="175.20" r="1.25" fill="#377eb8"/>
<circle cx="238.00" cy="176.50" r="1.25" fill="#377eb8"/>
<circle cx="239.50" cy="178.00" r="1.25" fill="#377eb8"/>
<circle cx="237.60" cy="183.30" r="1.25" fill="#377eb8"/>
<circle cx="239.50" cy="180.40" r="1.25" fill="#377eb8"/>
<circle cx="241.40" cy="194.50" r="1.25" fill="#377eb8"/>
<circle cx="233.50" cy="197.30" r="1.25" fill="#377eb8"/>
<circle cx="239.90" cy="197.80" r="1.25" fill="#377eb8"/>
<circle cx="242.30" cy="198.60" r="1.25" fill="#377eb8"/>
<circle cx="243.60" cy="198.10" r="1.25" fill="#377eb8"/>
<circle cx="240.50" cy="200.80" r="1.25" fill="#377eb8"/>
<circle cx="239.20" cy="201.20" r="1.25" fill="#377eb8"/>
<circle cx="237.50" cy="205.00" r="1.25" fill="#377eb8"/>
<circle cx="237.80" cy="156.20" r="1.25" fill="#e41a1c"/>
<circle cx="236.50" cy="166.40" r="1.25" fill="#e41a1c"/>
<circle cx="234.70" cy="197.20" r="1.25" fill="#e41a1c"/>
<circle cx="236.40" cy="198.40" r="1.25" fill="#e41a1c"/>
<circle cx="237.30" cy="196.60" r="1.25" fill="#e41a1c"/>
<circle cx="231.30" cy="201.90" r="1.25" fill="#e41a1c"/>
<circle cx="232.50" cy="206.30" r="1.25" fill="#e41a1c"/>
<circle cx="247.10" cy="204.00" r="1.25" fill="#e41a1c"/>
<circle cx="243.10" cy="205.40" r="1.25" fill="#e41a1c"/>
<circle cx="245.60" cy="206.60" r="1.25" fill="#e41a1c"/>
<circle cx="234.60" cy="207.60" r="1.25" fill="#e41a1c"/>
<circle cx="241.00" cy="209.00" r="1.25" fill="#e41a1c"/>
<circle cx="236.00" cy="209.30" r="1.25" fill="#e41a1c"/>
<circle cx="227.60" cy="211.46" r="1.25" fill="#e41a1c"/>
<circle cx="228.26" cy="211.75" r="1.25" fill="#e41a1c"/>
<circle cx="228.93" cy="210.37" r="1.25" fill="#e41a1c"/>
<circle cx="229.59" cy="210.62" r="1.25" fill="#e41a1c"/>
<circle cx="230.25" cy="210.26" r="1.25" fill="#e41a1c"/>
<circle cx="230.92" cy="211.45" r="1.25" fill="#e41a1c"/>
<circle cx="231.58" cy="210.63" r="1.25" fill="#e41a1c"/>
<circle cx="232.25" cy="210.41" r="1.25" fill="#e41a1c"/>
<circle cx="232.91" cy="210.88" r="1.25" fill="#e41a1c"/>
<circle cx="233.57" cy="211.66" r="1.25" fill="#e41a1c"/>
<circle cx="234.24" cy="211.51" r="1.25" fill="#e41a1c"/>
<circle cx="234.90" cy="210.61" r="1.25" fill="#e41a1c"/>
<circle cx="235.56" cy="210.44" r="1.25" fill="#e41a1c"/>
<circle cx="236.23" cy="211.67" r="1.25" fill="#e41a1c"/>
<circle cx="236.89" cy="211.11" r="1.25" fill="#e41a1c"/>
<circle cx="237.55" cy="211.32" r="1.25" fill="#e41a1c"/>
<circle cx="238.22" cy="210.34" r="1.25" fill="#e41a1c"/>
<circle cx="238.88" cy="210.29" r="1.25" fill="#e41a1c"/>
<circle cx="239.55" cy="211.30" r="1.25" fill="#e41a1c"/>
<circle cx="240.21" cy="210.88" r="1.25" fill="#e41a1c"/>
<circle cx="240.87" cy="210.32" r="1.25" fill="#e41a1c"/>
<circle cx="241.54" cy="211.70" r="1.25" fill="#e41a1c"/>
<circle cx="242.20" cy="211.22" r="1.25" fill="#e41a1c"/>
<circle cx="242.86" cy="211.48" r="1.25" fill="#e41a1c"/>
<circle cx="243.53" cy="210.33" r="1.25" fill="#e41a1c"/>
<circle cx="244.19" cy="211.57" r="1.25" fill="#e41a1c"/>
<circle cx="244.85" cy="210.31" r="1.25" fill="#e41a1c"/>
<circle cx="245.52" cy="211.58" r="1.25" fill="#e41a1c"/>
<circle cx="246.18" cy="210.93" r="1.25" fill="#e41a1c"/>
<circle cx="246.85" cy="210.74" r="1.25" fill="#e41a1c"/>
<circle cx="247.51" cy="211.08" r="1.25" fill="#e41a1c"/>
<circle cx="248.17" cy="211.68" r="1.25" fill="#e41a1c"/>
<circle cx="248.84" cy="210.63" r="1.25" fill="#e41a1c"/>
<circle cx="249.50" cy="210.41" r="1.25" fill="#e41a1c"/>
<line x1="235.20" y1="15.90" x2="239.40" y2="11.70" stroke="#377eb8" stroke-width="1.3" />
<line x1="240.30" y1="28.60" x2="238.00" y2="32.40" stroke="#377eb8" stroke-width="1.3" />
<text x="224.30" y="17.40" font-size="8.6" text-anchor="middle" fill="#377eb8" stroke="#377eb8" stroke-width="0.3" >64.86</text>
<text x="243.40" y="29.20" font-size="8.6" text-anchor="middle" fill="#377eb8" stroke="#377eb8" stroke-width="0.3" >58.51</text>
<circle cx="124.80" cy="11.20" r="1.1" fill="#e41a1c"/>
<text x="128.00" y="13.90" font-size="7.6" text-anchor="start" fill="#000" stroke="#000" stroke-width="0.3" >sgRNA1</text>
<circle cx="156.30" cy="11.20" r="1.1" fill="#377eb8"/>
<text x="158.70" y="13.90" font-size="7.6" text-anchor="start" fill="#000" stroke="#000" stroke-width="0.3" >sgRNA2</text>
<rect x="29.50" y="0.40" width="225.10" height="214.90" fill="none" stroke="#333333" stroke-width="1.2" />
<line x1="27.50" y1="212.20" x2="29.50" y2="212.20" stroke="#333333" stroke-width="0.8" />
<text x="28.00" y="215.00" font-size="8" text-anchor="end" fill="#000" stroke="#000" stroke-width="0.3" >0</text>
<line x1="27.50" y1="196.76" x2="29.50" y2="196.76" stroke="#333333" stroke-width="0.8" />
<text x="28.00" y="199.56" font-size="8" text-anchor="end" fill="#000" stroke="#000" stroke-width="0.3" >5</text>
<line x1="27.50" y1="181.33" x2="29.50" y2="181.33" stroke="#333333" stroke-width="0.8" />
<text x="28.00" y="184.13" font-size="8" text-anchor="end" fill="#000" stroke="#000" stroke-width="0.3" >10</text>
<line x1="27.50" y1="165.89" x2="29.50" y2="165.89" stroke="#333333" stroke-width="0.8" />
<text x="28.00" y="168.69" font-size="8" text-anchor="end" fill="#000" stroke="#000" stroke-width="0.3" >15</text>
<line x1="27.50" y1="150.46" x2="29.50" y2="150.46" stroke="#333333" stroke-width="0.8" />
<text x="28.00" y="153.26" font-size="8" text-anchor="end" fill="#000" stroke="#000" stroke-width="0.3" >20</text>
<line x1="27.50" y1="135.02" x2="29.50" y2="135.02" stroke="#333333" stroke-width="0.8" />
<text x="28.00" y="137.82" font-size="8" text-anchor="end" fill="#000" stroke="#000" stroke-width="0.3" >25</text>
<line x1="27.50" y1="119.59" x2="29.50" y2="119.59" stroke="#333333" stroke-width="0.8" />
<text x="28.00" y="122.39" font-size="8" text-anchor="end" fill="#000" stroke="#000" stroke-width="0.3" >30</text>
<line x1="27.50" y1="104.15" x2="29.50" y2="104.15" stroke="#333333" stroke-width="0.8" />
<text x="28.00" y="106.95" font-size="8" text-anchor="end" fill="#000" stroke="#000" stroke-width="0.3" >35</text>
<line x1="27.50" y1="88.72" x2="29.50" y2="88.72" stroke="#333333" stroke-width="0.8" />
<text x="28.00" y="91.52" font-size="8" text-anchor="end" fill="#000" stroke="#000" stroke-width="0.3" >40</text>
<line x1="27.50" y1="73.28" x2="29.50" y2="73.28" stroke="#333333" stroke-width="0.8" />
<text x="28.00" y="76.08" font-size="8" text-anchor="end" fill="#000" stroke="#000" stroke-width="0.3" >45</text>
<line x1="27.50" y1="57.85" x2="29.50" y2="57.85" stroke="#333333" stroke-width="0.8" />
<text x="28.00" y="60.65" font-size="8" text-anchor="end" fill="#000" stroke="#000" stroke-width="0.3" >50</text>
<line x1="27.50" y1="42.41" x2="29.50" y2="42.41" stroke="#333333" stroke-width="0.8" />
<text x="28.00" y="45.21" font-size="8" text-anchor="end" fill="#000" stroke="#000" stroke-width="0.3" >55</text>
<line x1="27.50" y1="26.98" x2="29.50" y2="26.98" stroke="#333333" stroke-width="0.8" />
<text x="28.00" y="29.78" font-size="8" text-anchor="end" fill="#000" stroke="#000" stroke-width="0.3" >60</text>
<line x1="27.50" y1="11.54" x2="29.50" y2="11.54" stroke="#333333" stroke-width="0.8" />
<text x="28.00" y="14.34" font-size="8" text-anchor="end" fill="#000" stroke="#000" stroke-width="0.3" >65</text>
<line x1="45.60" y1="215.30" x2="45.60" y2="217.30" stroke="#333333" stroke-width="0.8" />
<line x1="73.17" y1="215.30" x2="73.17" y2="217.30" stroke="#333333" stroke-width="0.8" />
<line x1="100.74" y1="215.30" x2="100.74" y2="217.30" stroke="#333333" stroke-width="0.8" />
<line x1="128.31" y1="215.30" x2="128.31" y2="217.30" stroke="#333333" stroke-width="0.8" />
<line x1="155.88" y1="215.30" x2="155.88" y2="217.30" stroke="#333333" stroke-width="0.8" />
<line x1="183.45" y1="215.30" x2="183.45" y2="217.30" stroke="#333333" stroke-width="0.8" />
<line x1="211.02" y1="215.30" x2="211.02" y2="217.30" stroke="#333333" stroke-width="0.8" />
<line x1="238.59" y1="215.30" x2="238.59" y2="217.30" stroke="#333333" stroke-width="0.8" />
<text x="46.90" y="223.60" font-size="7.7" text-anchor="middle" fill="#000" stroke="#000" stroke-width="0.3" >GhABE6.3d</text>
<text x="74.47" y="232.10" font-size="7.7" text-anchor="middle" fill="#000" stroke="#000" stroke-width="0.3" >GhABE6.3n</text>
<text x="102.04" y="223.60" font-size="7.7" text-anchor="middle" fill="#000" stroke="#000" stroke-width="0.3" >GhABE7.8d</text>
<text x="129.61" y="232.10" font-size="7.7" text-anchor="middle" fill="#000" stroke="#000" stroke-width="0.3" >GhABE7.8n</text>
<text x="157.18" y="223.60" font-size="7.7" text-anchor="middle" fill="#000" stroke="#000" stroke-width="0.3" >GhABE7.9d</text>
<text x="184.75" y="232.10" font-size="7.7" text-anchor="middle" fill="#000" stroke="#000" stroke-width="0.3" >GhABE7.9n</text>
<text x="212.32" y="223.60" font-size="7.7" text-anchor="middle" fill="#000" stroke="#000" stroke-width="0.3" >GhABE7.10d</text>
<text x="233.80" y="232.10" font-size="7.7" text-anchor="middle" fill="#000" stroke="#000" stroke-width="0.3" >GhABE7.10n</text>
<text x="137.90" y="240.50" font-size="8.7" text-anchor="middle" fill="#000" stroke="#000" stroke-width="0.3" >Adenine Base Editors (ABEs)</text>
<text x="6.30" y="120.50" font-size="8.8" text-anchor="middle" fill="#000" stroke="#000" stroke-width="0.3"  transform="rotate(-90 6.30 120.50)">Alleles frequency (%)</text>
<text x="15.40" y="108.30" font-size="8.8" text-anchor="middle" fill="#000" stroke="#000" stroke-width="0.3"  transform="rotate(-90 15.40 108.30)">with target A&#183;T base pair converted to G&#183;C</text>
<text x="1.00" y="11.60" font-size="15" text-anchor="start" fill="#000"  >A</text>
<line x1="284.50" y1="215.30" x2="510.40" y2="215.30" stroke="#e4e4e4" stroke-width="0.8" />
<line x1="284.50" y1="174.55" x2="510.40" y2="174.55" stroke="#e4e4e4" stroke-width="0.8" />
<line x1="284.50" y1="133.80" x2="510.40" y2="133.80" stroke="#e4e4e4" stroke-width="0.8" />
<line x1="284.50" y1="93.05" x2="510.40" y2="93.05" stroke="#e4e4e4" stroke-width="0.8" />
<line x1="284.50" y1="52.30" x2="510.40" y2="52.30" stroke="#e4e4e4" stroke-width="0.8" />
<line x1="284.50" y1="11.55" x2="510.40" y2="11.55" stroke="#e4e4e4" stroke-width="0.8" />
<line x1="316.60" y1="1.65" x2="316.60" y2="217.30" stroke="#e4e4e4" stroke-width="0.8" />
<line x1="370.40" y1="1.65" x2="370.40" y2="217.30" stroke="#e4e4e4" stroke-width="0.8" />
<line x1="424.50" y1="1.65" x2="424.50" y2="217.30" stroke="#e4e4e4" stroke-width="0.8" />
<line x1="478.60" y1="1.65" x2="478.60" y2="217.30" stroke="#e4e4e4" stroke-width="0.8" />
<rect x="335.50" y="1.70" width="89.00" height="12.50" fill="#fff" stroke="none" stroke-width="1" />
<circle cx="306.70" cy="199.20" r="1.15" fill="#377eb8"/>
<circle cx="308.50" cy="199.20" r="1.15" fill="#377eb8"/>
<circle cx="310.60" cy="199.20" r="1.15" fill="#377eb8"/>
<circle cx="317.20" cy="199.20" r="1.15" fill="#377eb8"/>
<circle cx="322.40" cy="199.20" r="1.15" fill="#377eb8"/>
<circle cx="315.60" cy="205.50" r="1.15" fill="#e41a1c"/>
<circle cx="319.50" cy="204.50" r="1.15" fill="#e41a1c"/>
<circle cx="319.00" cy="207.00" r="1.15" fill="#e41a1c"/>
<circle cx="311.00" cy="207.60" r="1.15" fill="#e41a1c"/>
<circle cx="323.00" cy="208.00" r="1.15" fill="#e41a1c"/>
<circle cx="297.20" cy="210.50" r="1.15" fill="#377eb8"/>
<circle cx="299.50" cy="210.50" r="1.15" fill="#377eb8"/>
<circle cx="305.90" cy="210.80" r="1.15" fill="#e41a1c"/>
<circle cx="308.40" cy="210.50" r="1.15" fill="#377eb8"/>
<circle cx="310.70" cy="210.50" r="1.15" fill="#e41a1c"/>
<circle cx="316.30" cy="210.80" r="1.15" fill="#e41a1c"/>
<circle cx="318.30" cy="210.50" r="1.15" fill="#e41a1c"/>
<circle cx="320.00" cy="210.50" r="1.15" fill="#e41a1c"/>
<circle cx="321.40" cy="210.30" r="1.15" fill="#377eb8"/>
<circle cx="327.10" cy="210.80" r="1.15" fill="#e41a1c"/>
<circle cx="332.50" cy="210.50" r="1.15" fill="#377eb8"/>
<circle cx="368.80" cy="198.60" r="1.15" fill="#377eb8"/>
<circle cx="370.70" cy="199.50" r="1.15" fill="#377eb8"/>
<circle cx="364.00" cy="204.20" r="1.15" fill="#e41a1c"/>
<circle cx="376.60" cy="204.50" r="1.15" fill="#e41a1c"/>
<circle cx="362.30" cy="207.50" r="1.15" fill="#e41a1c"/>
<circle cx="370.40" cy="207.00" r="1.15" fill="#e41a1c"/>
<circle cx="374.60" cy="207.80" r="1.15" fill="#e41a1c"/>
<circle cx="354.00" cy="210.70" r="1.15" fill="#e41a1c"/>
<circle cx="355.50" cy="210.00" r="1.15" fill="#e41a1c"/>
<circle cx="360.40" cy="210.30" r="1.15" fill="#377eb8"/>
<circle cx="364.70" cy="210.00" r="1.15" fill="#377eb8"/>
<circle cx="375.70" cy="210.70" r="1.15" fill="#e41a1c"/>
<circle cx="370.00" cy="210.60" r="1.15" fill="#377eb8"/>
<circle cx="373.50" cy="209.00" r="1.15" fill="#377eb8"/>
<circle cx="379.00" cy="209.00" r="1.15" fill="#377eb8"/>
<circle cx="380.40" cy="210.50" r="1.15" fill="#377eb8"/>
<circle cx="384.80" cy="210.00" r="1.15" fill="#377eb8"/>
<circle cx="423.20" cy="153.90" r="1.15" fill="#377eb8"/>
<circle cx="423.00" cy="197.00" r="1.15" fill="#377eb8"/>
<circle cx="424.50" cy="195.50" r="1.15" fill="#377eb8"/>
<circle cx="425.40" cy="194.10" r="1.15" fill="#377eb8"/>
<circle cx="424.70" cy="198.50" r="1.15" fill="#377eb8"/>
<circle cx="428.90" cy="197.80" r="1.15" fill="#377eb8"/>
<circle cx="425.50" cy="200.00" r="1.15" fill="#377eb8"/>
<circle cx="426.50" cy="196.00" r="1.15" fill="#377eb8"/>
<circle cx="423.97" cy="206.27" r="1.15" fill="#e41a1c"/>
<circle cx="408.94" cy="206.05" r="1.15" fill="#e41a1c"/>
<circle cx="406.81" cy="206.16" r="1.15" fill="#e41a1c"/>
<circle cx="416.23" cy="206.45" r="1.15" fill="#e41a1c"/>
<circle cx="432.34" cy="206.41" r="1.15" fill="#e41a1c"/>
<circle cx="423.00" cy="206.10" r="1.15" fill="#e41a1c"/>
<circle cx="417.49" cy="205.65" r="1.15" fill="#e41a1c"/>
<circle cx="414.02" cy="205.64" r="1.15" fill="#e41a1c"/>
<circle cx="431.39" cy="207.14" r="1.15" fill="#e41a1c"/>
<circle cx="411.82" cy="206.93" r="1.15" fill="#e41a1c"/>
<circle cx="438.65" cy="205.90" r="1.15" fill="#e41a1c"/>
<circle cx="434.48" cy="206.81" r="1.15" fill="#e41a1c"/>
<circle cx="422.82" cy="207.94" r="1.15" fill="#e41a1c"/>
<circle cx="419.15" cy="207.02" r="1.15" fill="#e41a1c"/>
<circle cx="429.76" cy="208.35" r="1.15" fill="#e41a1c"/>
<circle cx="417.34" cy="207.93" r="1.15" fill="#e41a1c"/>
<circle cx="430.44" cy="207.38" r="1.15" fill="#e41a1c"/>
<circle cx="419.57" cy="206.57" r="1.15" fill="#e41a1c"/>
<circle cx="406.96" cy="208.51" r="1.15" fill="#377eb8"/>
<circle cx="407.55" cy="209.98" r="1.15" fill="#377eb8"/>
<circle cx="414.20" cy="208.59" r="1.15" fill="#377eb8"/>
<circle cx="408.04" cy="210.22" r="1.15" fill="#377eb8"/>
<circle cx="436.34" cy="209.81" r="1.15" fill="#377eb8"/>
<circle cx="415.15" cy="208.78" r="1.15" fill="#377eb8"/>
<circle cx="415.55" cy="209.30" r="1.15" fill="#377eb8"/>
<circle cx="410.67" cy="209.27" r="1.15" fill="#377eb8"/>
<circle cx="414.48" cy="210.51" r="1.15" fill="#377eb8"/>
<circle cx="440.01" cy="209.51" r="1.15" fill="#377eb8"/>
<circle cx="413.80" cy="210.52" r="1.15" fill="#377eb8"/>
<circle cx="416.14" cy="209.06" r="1.15" fill="#377eb8"/>
<circle cx="405.04" cy="209.12" r="1.15" fill="#377eb8"/>
<circle cx="422.09" cy="209.41" r="1.15" fill="#377eb8"/>
<circle cx="412.24" cy="209.41" r="1.15" fill="#377eb8"/>
<circle cx="405.18" cy="208.83" r="1.15" fill="#377eb8"/>
<circle cx="408.23" cy="209.16" r="1.15" fill="#377eb8"/>
<circle cx="406.50" cy="208.25" r="1.15" fill="#377eb8"/>
<circle cx="478.90" cy="152.10" r="1.15" fill="#377eb8"/>
<circle cx="477.40" cy="180.20" r="1.15" fill="#e41a1c"/>
<circle cx="469.50" cy="198.24" r="1.15" fill="#377eb8"/>
<circle cx="473.70" cy="198.19" r="1.15" fill="#377eb8"/>
<circle cx="475.80" cy="198.47" r="1.15" fill="#377eb8"/>
<circle cx="478.00" cy="198.42" r="1.15" fill="#377eb8"/>
<circle cx="480.20" cy="198.60" r="1.15" fill="#377eb8"/>
<circle cx="482.40" cy="198.53" r="1.15" fill="#377eb8"/>
<circle cx="486.90" cy="198.57" r="1.15" fill="#377eb8"/>
<circle cx="491.77" cy="206.89" r="1.15" fill="#e41a1c"/>
<circle cx="472.41" cy="208.56" r="1.15" fill="#e41a1c"/>
<circle cx="466.23" cy="207.83" r="1.15" fill="#e41a1c"/>
<circle cx="483.51" cy="205.92" r="1.15" fill="#e41a1c"/>
<circle cx="490.24" cy="208.30" r="1.15" fill="#e41a1c"/>
<circle cx="482.96" cy="207.85" r="1.15" fill="#e41a1c"/>
<circle cx="489.43" cy="206.19" r="1.15" fill="#e41a1c"/>
<circle cx="479.33" cy="207.21" r="1.15" fill="#e41a1c"/>
<circle cx="490.22" cy="208.05" r="1.15" fill="#e41a1c"/>
<circle cx="489.92" cy="207.44" r="1.15" fill="#e41a1c"/>
<circle cx="492.25" cy="207.71" r="1.15" fill="#e41a1c"/>
<circle cx="485.27" cy="206.44" r="1.15" fill="#e41a1c"/>
<circle cx="462.09" cy="206.17" r="1.15" fill="#e41a1c"/>
<circle cx="473.62" cy="206.09" r="1.15" fill="#e41a1c"/>
<circle cx="490.25" cy="207.36" r="1.15" fill="#e41a1c"/>
<circle cx="482.97" cy="207.55" r="1.15" fill="#e41a1c"/>
<circle cx="484.82" cy="207.17" r="1.15" fill="#e41a1c"/>
<circle cx="461.12" cy="208.03" r="1.15" fill="#e41a1c"/>
<circle cx="487.19" cy="207.21" r="1.15" fill="#e41a1c"/>
<circle cx="479.73" cy="207.65" r="1.15" fill="#e41a1c"/>
<circle cx="463.31" cy="207.86" r="1.15" fill="#e41a1c"/>
<circle cx="469.83" cy="206.01" r="1.15" fill="#e41a1c"/>
<circle cx="470.29" cy="207.84" r="1.15" fill="#e41a1c"/>
<circle cx="468.18" cy="207.87" r="1.15" fill="#e41a1c"/>
<circle cx="495.15" cy="207.18" r="1.15" fill="#e41a1c"/>
<circle cx="474.39" cy="207.14" r="1.15" fill="#e41a1c"/>
<circle cx="484.93" cy="207.95" r="1.15" fill="#e41a1c"/>
<circle cx="482.59" cy="207.60" r="1.15" fill="#e41a1c"/>
<circle cx="463.71" cy="206.21" r="1.15" fill="#e41a1c"/>
<circle cx="469.89" cy="207.88" r="1.15" fill="#e41a1c"/>
<circle cx="470.34" cy="209.65" r="1.15" fill="#377eb8"/>
<circle cx="458.99" cy="208.53" r="1.15" fill="#377eb8"/>
<circle cx="468.96" cy="209.88" r="1.15" fill="#377eb8"/>
<circle cx="485.43" cy="209.89" r="1.15" fill="#377eb8"/>
<circle cx="469.81" cy="209.54" r="1.15" fill="#377eb8"/>
<circle cx="476.58" cy="209.43" r="1.15" fill="#377eb8"/>
<circle cx="463.11" cy="210.37" r="1.15" fill="#377eb8"/>
<circle cx="466.25" cy="210.55" r="1.15" fill="#377eb8"/>
<circle cx="494.92" cy="208.44" r="1.15" fill="#377eb8"/>
<circle cx="476.35" cy="210.20" r="1.15" fill="#377eb8"/>
<circle cx="496.16" cy="209.39" r="1.15" fill="#377eb8"/>
<circle cx="468.95" cy="208.86" r="1.15" fill="#377eb8"/>
<circle cx="495.28" cy="208.86" r="1.15" fill="#377eb8"/>
<circle cx="481.12" cy="208.71" r="1.15" fill="#377eb8"/>
<circle cx="478.89" cy="210.50" r="1.15" fill="#377eb8"/>
<circle cx="463.66" cy="210.20" r="1.15" fill="#377eb8"/>
<circle cx="478.29" cy="210.35" r="1.15" fill="#377eb8"/>
<circle cx="485.86" cy="208.91" r="1.15" fill="#377eb8"/>
<circle cx="493.42" cy="209.47" r="1.15" fill="#377eb8"/>
<circle cx="459.47" cy="208.41" r="1.15" fill="#377eb8"/>
<circle cx="477.63" cy="209.39" r="1.15" fill="#377eb8"/>
<circle cx="470.25" cy="208.71" r="1.15" fill="#377eb8"/>
<circle cx="471.88" cy="209.10" r="1.15" fill="#377eb8"/>
<circle cx="491.18" cy="208.40" r="1.15" fill="#377eb8"/>
<circle cx="487.70" cy="210.25" r="1.15" fill="#377eb8"/>
<circle cx="463.17" cy="210.44" r="1.15" fill="#377eb8"/>
<circle cx="486.24" cy="210.38" r="1.15" fill="#377eb8"/>
<circle cx="469.77" cy="209.22" r="1.15" fill="#377eb8"/>
<circle cx="473.78" cy="210.60" r="1.15" fill="#377eb8"/>
<circle cx="481.42" cy="209.19" r="1.15" fill="#377eb8"/>
<line x1="476.60" y1="13.60" x2="479.40" y2="9.90" stroke="#377eb8" stroke-width="1.3" />
<circle cx="479.00" cy="10.30" r="1.2" fill="#377eb8"/>
<text x="475.50" y="19.70" font-size="8.6" text-anchor="middle" fill="#377eb8" stroke="#377eb8" stroke-width="0.3" >12.57</text>
<circle cx="360.40" cy="9.70" r="1.1" fill="#e41a1c"/>
<text x="363.20" y="12.40" font-size="7.6" text-anchor="start" fill="#000" stroke="#000" stroke-width="0.3" >sgRNA3</text>
<circle cx="392.10" cy="9.70" r="1.1" fill="#377eb8"/>
<text x="394.40" y="12.40" font-size="7.6" text-anchor="start" fill="#000" stroke="#000" stroke-width="0.3" >sgRNA4</text>
<rect x="284.50" y="1.65" width="225.90" height="215.65" fill="none" stroke="#333333" stroke-width="1.2" />
<line x1="282.50" y1="215.30" x2="284.50" y2="215.30" stroke="#333333" stroke-width="0.8" />
<text x="282.30" y="218.10" font-size="8" text-anchor="end" fill="#000" stroke="#000" stroke-width="0.3" >0</text>
<line x1="282.50" y1="133.80" x2="284.50" y2="133.80" stroke="#333333" stroke-width="0.8" />
<text x="282.30" y="136.60" font-size="8" text-anchor="end" fill="#000" stroke="#000" stroke-width="0.3" >5</text>
<line x1="282.50" y1="52.30" x2="284.50" y2="52.30" stroke="#333333" stroke-width="0.8" />
<text x="282.30" y="55.10" font-size="8" text-anchor="end" fill="#000" stroke="#000" stroke-width="0.3" >10</text>
<line x1="316.60" y1="217.30" x2="316.60" y2="219.30" stroke="#333333" stroke-width="0.8" />
<text x="318.10" y="227.00" font-size="8.7" text-anchor="middle" fill="#000" stroke="#000" stroke-width="0.3" >GhABE6.3n</text>
<line x1="370.40" y1="217.30" x2="370.40" y2="219.30" stroke="#333333" stroke-width="0.8" />
<text x="371.90" y="227.00" font-size="8.7" text-anchor="middle" fill="#000" stroke="#000" stroke-width="0.3" >GhABE7.8n</text>
<line x1="424.50" y1="217.30" x2="424.50" y2="219.30" stroke="#333333" stroke-width="0.8" />
<text x="426.00" y="227.00" font-size="8.7" text-anchor="middle" fill="#000" stroke="#000" stroke-width="0.3" >GhABE7.9n</text>
<line x1="478.60" y1="217.30" x2="478.60" y2="219.30" stroke="#333333" stroke-width="0.8" />
<text x="482.50" y="227.00" font-size="8.7" text-anchor="middle" fill="#000" stroke="#000" stroke-width="0.3" >GhABE7.10n</text>
<text x="399.50" y="239.80" font-size="8.7" text-anchor="middle" fill="#000" stroke="#000" stroke-width="0.3" >Adenine Base Editors (ABEs)</text>
<text x="263.90" y="110.10" font-size="8.7" text-anchor="middle" fill="#000" stroke="#000" stroke-width="0.3"  transform="rotate(-90 263.90 110.10)">Alleles frequency (%)</text>
<text x="273.80" y="101.50" font-size="8.8" text-anchor="middle" fill="#000" stroke="#000" stroke-width="0.3"  transform="rotate(-90 273.80 101.50)">with target A&#183;T base pair converted to G&#183;C</text>
<text x="262.80" y="11.10" font-size="14.5" text-anchor="start" fill="#000"  >B</text>
<line x1="547.00" y1="53.40" x2="764.30" y2="53.40" stroke="#000" stroke-width="1.1" />
<rect x="547.50" y="52.15" width="8.2" height="2.5" rx="1.25" fill="#000"/>
<rect x="556.95" y="52.15" width="8.2" height="2.5" rx="1.25" fill="#000"/>
<rect x="566.40" y="52.15" width="8.2" height="2.5" rx="1.25" fill="#000"/>
<rect x="575.85" y="52.15" width="8.2" height="2.5" rx="1.25" fill="#000"/>
<rect x="594.75" y="52.15" width="8.2" height="2.5" rx="1.25" fill="#000"/>
<rect x="604.20" y="52.15" width="8.2" height="2.5" rx="1.25" fill="#000"/>
<rect x="613.65" y="52.15" width="8.2" height="2.5" rx="1.25" fill="#000"/>
<rect x="623.10" y="52.15" width="8.2" height="2.5" rx="1.25" fill="#000"/>
<rect x="632.55" y="52.15" width="8.2" height="2.5" rx="1.25" fill="#000"/>
<rect x="642.00" y="52.15" width="8.2" height="2.5" rx="1.25" fill="#000"/>
<rect x="651.45" y="52.15" width="8.2" height="2.5" rx="1.25" fill="#000"/>
<rect x="660.90" y="52.15" width="8.2" height="2.5" rx="1.25" fill="#000"/>
<rect x="670.35" y="52.15" width="8.2" height="2.5" rx="1.25" fill="#000"/>
<rect x="679.80" y="52.15" width="8.2" height="2.5" rx="1.25" fill="#000"/>
<rect x="689.25" y="52.15" width="8.2" height="2.5" rx="1.25" fill="#000"/>
<rect x="698.70" y="52.15" width="8.2" height="2.5" rx="1.25" fill="#000"/>
<rect x="708.15" y="52.15" width="8.2" height="2.5" rx="1.25" fill="#000"/>
<rect x="717.60" y="52.15" width="8.2" height="2.5" rx="1.25" fill="#000"/>
<rect x="727.05" y="52.15" width="8.2" height="2.5" rx="1.25" fill="#000"/>
<rect x="736.50" y="52.15" width="8.2" height="2.5" rx="1.25" fill="#000"/>
<rect x="745.95" y="52.15" width="8.2" height="2.5" rx="1.25" fill="#000"/>
<rect x="755.40" y="52.15" width="8.2" height="2.5" rx="1.25" fill="#000"/>
<rect x="584.80" y="51.90" width="9.20" height="3.00" fill="#fff" stroke="none" stroke-width="1" />
<path d="M619.80,53.40 Q623.50,49.76 627.20,49.50 Q630.90,49.76 634.60,53.40 Z" fill="#000"/>
<circle cx="627.20" cy="44.40" r="1.2" fill="#000"/>
<line x1="627.20" y1="44.40" x2="627.20" y2="50.80" stroke="#000" stroke-width="0.9" />
<path d="M677.90,53.40 Q680.90,51.02 683.90,50.85 Q686.90,51.02 689.90,53.40 Z" fill="#000"/>
<path d="M724.65,53.40 Q727.90,50.32 731.15,50.10 Q734.40,50.32 737.65,53.40 Z" fill="#000"/>
<line x1="589.40" y1="4.60" x2="589.40" y2="25.46" stroke="#000" stroke-width="1.2" />
<line x1="589.40" y1="39.93" x2="589.40" y2="46.11" stroke="#000" stroke-width="1.2" />
<rect x="585.25" y="25.46" width="8.30" height="14.47" fill="#1b9e77" stroke="#1a1a1a" stroke-width="1.2"/>
<line x1="585.25" y1="32.44" x2="593.55" y2="32.44" stroke="#000" stroke-width="1.3" />
<rect x="587.70" y="16.57" width="3.40" height="1.8" rx="0.8" fill="#000"/>
<rect x="587.70" y="31.54" width="3.40" height="1.8" rx="0.8" fill="#000"/>
<rect x="587.70" y="37.53" width="3.40" height="1.8" rx="0.8" fill="#000"/>
<rect x="587.70" y="38.53" width="3.40" height="1.8" rx="0.8" fill="#000"/>
<rect x="587.70" y="38.03" width="3.40" height="1.8" rx="0.8" fill="#000"/>
<rect x="587.70" y="26.55" width="3.40" height="1.8" rx="0.8" fill="#000"/>
<circle cx="589.40" cy="4.60" r="1.15" fill="#000"/>
<line x1="545.80" y1="1.80" x2="764.80" y2="1.80" stroke="#8a8a8a" stroke-width="1.2" />
<line x1="545.80" y1="1.80" x2="545.80" y2="56.40" stroke="#e6e6e6" stroke-width="0.8" />
<line x1="545.80" y1="56.40" x2="764.80" y2="56.40" stroke="#3a3a3a" stroke-width="0.9" />
<line x1="764.80" y1="1.40" x2="764.80" y2="56.80" stroke="#4a4a4a" stroke-width="1.4" />
<rect x="765.70" y="1.80" width="9.60" height="54.60" fill="#d9d9d9" stroke="#808080" stroke-width="1.0" />
<text x="767.60" y="29.10" font-size="9.0" text-anchor="middle" fill="#000" stroke="#000" stroke-width="0.3"  transform="rotate(90 767.60 29.10)">GhABE6.3d</text>
<circle cx="545.10" cy="53.40" r="0.5" fill="#333"/>
<text x="540.80" y="56.40" font-size="8.8" text-anchor="end" fill="#000" stroke="#000" stroke-width="0.3" >0</text>
<circle cx="545.10" cy="43.42" r="0.5" fill="#333"/>
<text x="540.80" y="46.42" font-size="8.8" text-anchor="end" fill="#000" stroke="#000" stroke-width="0.3" >1</text>
<circle cx="545.10" cy="33.44" r="0.5" fill="#333"/>
<text x="540.80" y="36.44" font-size="8.8" text-anchor="end" fill="#000" stroke="#000" stroke-width="0.3" >2</text>
<circle cx="545.10" cy="23.46" r="0.5" fill="#333"/>
<text x="540.80" y="26.46" font-size="8.8" text-anchor="end" fill="#000" stroke="#000" stroke-width="0.3" >3</text>
<circle cx="545.10" cy="13.48" r="0.5" fill="#333"/>
<text x="540.80" y="16.48" font-size="8.8" text-anchor="end" fill="#000" stroke="#000" stroke-width="0.3" >4</text>
<circle cx="545.10" cy="3.50" r="0.5" fill="#333"/>
<text x="540.80" y="6.50" font-size="8.8" text-anchor="end" fill="#000" stroke="#000" stroke-width="0.3" >5</text>
<line x1="547.00" y1="111.40" x2="764.30" y2="111.40" stroke="#000" stroke-width="1.1" />
<rect x="547.50" y="110.15" width="8.2" height="2.5" rx="1.25" fill="#000"/>
<rect x="556.95" y="110.15" width="8.2" height="2.5" rx="1.25" fill="#000"/>
<rect x="566.40" y="110.15" width="8.2" height="2.5" rx="1.25" fill="#000"/>
<rect x="575.85" y="110.15" width="8.2" height="2.5" rx="1.25" fill="#000"/>
<rect x="594.75" y="110.15" width="8.2" height="2.5" rx="1.25" fill="#000"/>
<rect x="604.20" y="110.15" width="8.2" height="2.5" rx="1.25" fill="#000"/>
<rect x="613.65" y="110.15" width="8.2" height="2.5" rx="1.25" fill="#000"/>
<rect x="623.10" y="110.15" width="8.2" height="2.5" rx="1.25" fill="#000"/>
<rect x="632.55" y="110.15" width="8.2" height="2.5" rx="1.25" fill="#000"/>
<rect x="642.00" y="110.15" width="8.2" height="2.5" rx="1.25" fill="#000"/>
<rect x="651.45" y="110.15" width="8.2" height="2.5" rx="1.25" fill="#000"/>
<rect x="660.90" y="110.15" width="8.2" height="2.5" rx="1.25" fill="#000"/>
<rect x="670.35" y="110.15" width="8.2" height="2.5" rx="1.25" fill="#000"/>
<rect x="679.80" y="110.15" width="8.2" height="2.5" rx="1.25" fill="#000"/>
<rect x="689.25" y="110.15" width="8.2" height="2.5" rx="1.25" fill="#000"/>
<rect x="698.70" y="110.15" width="8.2" height="2.5" rx="1.25" fill="#000"/>
<rect x="708.15" y="110.15" width="8.2" height="2.5" rx="1.25" fill="#000"/>
<rect x="717.60" y="110.15" width="8.2" height="2.5" rx="1.25" fill="#000"/>
<rect x="727.05" y="110.15" width="8.2" height="2.5" rx="1.25" fill="#000"/>
<rect x="736.50" y="110.15" width="8.2" height="2.5" rx="1.25" fill="#000"/>
<rect x="745.95" y="110.15" width="8.2" height="2.5" rx="1.25" fill="#000"/>
<rect x="755.40" y="110.15" width="8.2" height="2.5" rx="1.25" fill="#000"/>
<rect x="584.80" y="109.90" width="9.20" height="3.00" fill="#fff" stroke="none" stroke-width="1" />
<path d="M619.80,111.40 Q623.50,107.76 627.20,107.50 Q630.90,107.76 634.60,111.40 Z" fill="#000"/>
<circle cx="627.20" cy="101.90" r="1.2" fill="#000"/>
<path d="M677.90,111.40 Q680.90,109.02 683.90,108.85 Q686.90,109.02 689.90,111.40 Z" fill="#000"/>
<circle cx="683.90" cy="106.60" r="1.2" fill="#000"/>
<line x1="683.90" y1="106.60" x2="683.90" y2="109.70" stroke="#000" stroke-width="0.9" />
<path d="M724.65,111.40 Q727.90,108.32 731.15,108.10 Q734.40,108.32 737.65,111.40 Z" fill="#000"/>
<circle cx="731.15" cy="105.80" r="1.2" fill="#000"/>
<line x1="731.15" y1="105.80" x2="731.15" y2="109.20" stroke="#000" stroke-width="0.9" />
<rect x="585.25" y="79.44" width="8.30" height="6.58" fill="#d95f02" stroke="#1a1a1a" stroke-width="1.2"/>
<line x1="585.25" y1="80.38" x2="593.55" y2="80.38" stroke="#000" stroke-width="1.3" />
<rect x="587.70" y="62.56" width="3.40" height="1.8" rx="0.8" fill="#000"/>
<rect x="587.70" y="97.34" width="3.40" height="1.8" rx="0.8" fill="#000"/>
<rect x="587.70" y="99.22" width="3.40" height="1.8" rx="0.8" fill="#000"/>
<rect x="587.70" y="79.48" width="3.40" height="1.8" rx="0.8" fill="#000"/>
<rect x="587.70" y="80.42" width="3.40" height="1.8" rx="0.8" fill="#000"/>
<rect x="587.70" y="79.01" width="3.40" height="1.8" rx="0.8" fill="#000"/>
<circle cx="589.40" cy="63.46" r="1.2" fill="#000"/>
<circle cx="589.40" cy="98.24" r="1.2" fill="#000"/>
<circle cx="589.40" cy="100.12" r="1.2" fill="#000"/>
<line x1="545.80" y1="59.80" x2="764.80" y2="59.80" stroke="#8a8a8a" stroke-width="1.2" />
<line x1="545.80" y1="59.80" x2="545.80" y2="114.40" stroke="#e6e6e6" stroke-width="0.8" />
<line x1="545.80" y1="114.40" x2="764.80" y2="114.40" stroke="#3a3a3a" stroke-width="0.9" />
<line x1="764.80" y1="59.40" x2="764.80" y2="114.80" stroke="#4a4a4a" stroke-width="1.4" />
<rect x="765.70" y="59.80" width="9.60" height="54.60" fill="#d9d9d9" stroke="#808080" stroke-width="1.0" />
<text x="767.60" y="87.10" font-size="9.0" text-anchor="middle" fill="#000" stroke="#000" stroke-width="0.3"  transform="rotate(90 767.60 87.10)">GhABE6.3n</text>
<circle cx="545.10" cy="111.40" r="0.5" fill="#333"/>
<text x="540.80" y="114.40" font-size="8.8" text-anchor="end" fill="#000" stroke="#000" stroke-width="0.3" >0</text>
<circle cx="545.10" cy="92.60" r="0.5" fill="#333"/>
<text x="540.80" y="95.60" font-size="8.8" text-anchor="end" fill="#000" stroke="#000" stroke-width="0.3" >2</text>
<circle cx="545.10" cy="73.80" r="0.5" fill="#333"/>
<text x="540.80" y="76.80" font-size="8.8" text-anchor="end" fill="#000" stroke="#000" stroke-width="0.3" >4</text>
<line x1="547.00" y1="169.40" x2="764.30" y2="169.40" stroke="#000" stroke-width="1.1" />
<rect x="547.50" y="168.15" width="8.2" height="2.5" rx="1.25" fill="#000"/>
<rect x="556.95" y="168.15" width="8.2" height="2.5" rx="1.25" fill="#000"/>
<rect x="566.40" y="168.15" width="8.2" height="2.5" rx="1.25" fill="#000"/>
<rect x="575.85" y="168.15" width="8.2" height="2.5" rx="1.25" fill="#000"/>
<rect x="594.75" y="168.15" width="8.2" height="2.5" rx="1.25" fill="#000"/>
<rect x="604.20" y="168.15" width="8.2" height="2.5" rx="1.25" fill="#000"/>
<rect x="613.65" y="168.15" width="8.2" height="2.5" rx="1.25" fill="#000"/>
<rect x="623.10" y="168.15" width="8.2" height="2.5" rx="1.25" fill="#000"/>
<rect x="632.55" y="168.15" width="8.2" height="2.5" rx="1.25" fill="#000"/>
<rect x="642.00" y="168.15" width="8.2" height="2.5" rx="1.25" fill="#000"/>
<rect x="651.45" y="168.15" width="8.2" height="2.5" rx="1.25" fill="#000"/>
<rect x="660.90" y="168.15" width="8.2" height="2.5" rx="1.25" fill="#000"/>
<rect x="670.35" y="168.15" width="8.2" height="2.5" rx="1.25" fill="#000"/>
<rect x="679.80" y="168.15" width="8.2" height="2.5" rx="1.25" fill="#000"/>
<rect x="689.25" y="168.15" width="8.2" height="2.5" rx="1.25" fill="#000"/>
<rect x="698.70" y="168.15" width="8.2" height="2.5" rx="1.25" fill="#000"/>
<rect x="708.15" y="168.15" width="8.2" height="2.5" rx="1.25" fill="#000"/>
<rect x="717.60" y="168.15" width="8.2" height="2.5" rx="1.25" fill="#000"/>
<rect x="727.05" y="168.15" width="8.2" height="2.5" rx="1.25" fill="#000"/>
<rect x="736.50" y="168.15" width="8.2" height="2.5" rx="1.25" fill="#000"/>
<rect x="745.95" y="168.15" width="8.2" height="2.5" rx="1.25" fill="#000"/>
<rect x="755.40" y="168.15" width="8.2" height="2.5" rx="1.25" fill="#000"/>
<rect x="584.80" y="167.90" width="9.20" height="3.00" fill="#fff" stroke="none" stroke-width="1" />
<path d="M619.80,169.40 Q623.50,165.76 627.20,165.50 Q630.90,165.76 634.60,169.40 Z" fill="#000"/>
<circle cx="627.20" cy="161.70" r="1.2" fill="#000"/>
<line x1="627.20" y1="161.70" x2="627.20" y2="166.80" stroke="#000" stroke-width="0.9" />
<path d="M677.90,169.40 Q680.90,167.02 683.90,166.85 Q686.90,167.02 689.90,169.40 Z" fill="#000"/>
<path d="M724.65,169.40 Q727.90,166.32 731.15,166.10 Q734.40,166.32 737.65,169.40 Z" fill="#000"/>
<line x1="589.40" y1="120.47" x2="589.40" y2="138.16" stroke="#000" stroke-width="1.2" />
<line x1="589.40" y1="157.52" x2="589.40" y2="166.50" stroke="#000" stroke-width="1.2" />
<rect x="585.25" y="138.16" width="8.30" height="19.36" fill="#7570b3" stroke="#1a1a1a" stroke-width="1.2"/>
<line x1="585.25" y1="148.10" x2="593.55" y2="148.10" stroke="#000" stroke-width="1.3" />
<rect x="587.70" y="147.20" width="3.40" height="1.8" rx="0.8" fill="#000"/>
<rect x="587.70" y="152.92" width="3.40" height="1.8" rx="0.8" fill="#000"/>
<rect x="587.70" y="137.70" width="3.40" height="1.8" rx="0.8" fill="#000"/>
<rect x="587.70" y="159.70" width="3.40" height="1.8" rx="0.8" fill="#000"/>
<rect x="587.70" y="120.10" width="3.40" height="1.8" rx="0.8" fill="#000"/>
<circle cx="589.40" cy="120.47" r="1.15" fill="#000"/>
<line x1="545.80" y1="117.80" x2="764.80" y2="117.80" stroke="#8a8a8a" stroke-width="1.2" />
<line x1="545.80" y1="117.80" x2="545.80" y2="172.40" stroke="#e6e6e6" stroke-width="0.8" />
<line x1="545.80" y1="172.40" x2="764.80" y2="172.40" stroke="#3a3a3a" stroke-width="0.9" />
<line x1="764.80" y1="117.40" x2="764.80" y2="172.80" stroke="#4a4a4a" stroke-width="1.4" />
<rect x="765.70" y="117.80" width="9.60" height="54.60" fill="#d9d9d9" stroke="#808080" stroke-width="1.0" />
<text x="767.60" y="145.10" font-size="9.0" text-anchor="middle" fill="#000" stroke="#000" stroke-width="0.3"  transform="rotate(90 767.60 145.10)">GhABE7.8d</text>
<circle cx="545.10" cy="169.40" r="0.5" fill="#333"/>
<text x="540.80" y="172.40" font-size="8.8" text-anchor="end" fill="#000" stroke="#000" stroke-width="0.3" >0</text>
<circle cx="545.10" cy="151.80" r="0.5" fill="#333"/>
<text x="540.80" y="154.80" font-size="8.8" text-anchor="end" fill="#000" stroke="#000" stroke-width="0.3" >2</text>
<circle cx="545.10" cy="134.20" r="0.5" fill="#333"/>
<text x="540.80" y="137.20" font-size="8.8" text-anchor="end" fill="#000" stroke="#000" stroke-width="0.3" >4</text>
<line x1="547.00" y1="227.40" x2="764.30" y2="227.40" stroke="#000" stroke-width="1.1" />
<rect x="547.50" y="226.15" width="8.2" height="2.5" rx="1.25" fill="#000"/>
<rect x="556.95" y="226.15" width="8.2" height="2.5" rx="1.25" fill="#000"/>
<rect x="566.40" y="226.15" width="8.2" height="2.5" rx="1.25" fill="#000"/>
<rect x="575.85" y="226.15" width="8.2" height="2.5" rx="1.25" fill="#000"/>
<rect x="594.75" y="226.15" width="8.2" height="2.5" rx="1.25" fill="#000"/>
<rect x="604.20" y="226.15" width="8.2" height="2.5" rx="1.25" fill="#000"/>
<rect x="613.65" y="226.15" width="8.2" height="2.5" rx="1.25" fill="#000"/>
<rect x="623.10" y="226.15" width="8.2" height="2.5" rx="1.25" fill="#000"/>
<rect x="632.55" y="226.15" width="8.2" height="2.5" rx="1.25" fill="#000"/>
<rect x="642.00" y="226.15" width="8.2" height="2.5" rx="1.25" fill="#000"/>
<rect x="651.45" y="226.15" width="8.2" height="2.5" rx="1.25" fill="#000"/>
<rect x="660.90" y="226.15" width="8.2" height="2.5" rx="1.25" fill="#000"/>
<rect x="670.35" y="226.15" width="8.2" height="2.5" rx="1.25" fill="#000"/>
<rect x="679.80" y="226.15" width="8.2" height="2.5" rx="1.25" fill="#000"/>
<rect x="689.25" y="226.15" width="8.2" height="2.5" rx="1.25" fill="#000"/>
<rect x="698.70" y="226.15" width="8.2" height="2.5" rx="1.25" fill="#000"/>
<rect x="708.15" y="226.15" width="8.2" height="2.5" rx="1.25" fill="#000"/>
<rect x="717.60" y="226.15" width="8.2" height="2.5" rx="1.25" fill="#000"/>
<rect x="727.05" y="226.15" width="8.2" height="2.5" rx="1.25" fill="#000"/>
<rect x="736.50" y="226.15" width="8.2" height="2.5" rx="1.25" fill="#000"/>
<rect x="745.95" y="226.15" width="8.2" height="2.5" rx="1.25" fill="#000"/>
<rect x="755.40" y="226.15" width="8.2" height="2.5" rx="1.25" fill="#000"/>
<rect x="584.80" y="225.90" width="9.20" height="3.00" fill="#fff" stroke="none" stroke-width="1" />
<rect x="623.20" y="220.40" width="8" height="6" fill="#e7298a" stroke="#000" stroke-width="1"/>
<line x1="623.20" y1="220.90" x2="631.20" y2="220.90" stroke="#000" stroke-width="1.4" />
<path d="M677.90,227.40 Q680.90,225.02 683.90,224.85 Q686.90,225.02 689.90,227.40 Z" fill="#000"/>
<path d="M724.65,227.40 Q727.90,224.32 731.15,224.10 Q734.40,224.32 737.65,227.40 Z" fill="#000"/>
<line x1="589.40" y1="178.50" x2="589.40" y2="183.88" stroke="#000" stroke-width="1.2" />
<line x1="589.40" y1="201.32" x2="589.40" y2="210.53" stroke="#000" stroke-width="1.2" />
<rect x="585.25" y="183.88" width="8.30" height="17.44" fill="#e7298a" stroke="#1a1a1a" stroke-width="1.2"/>
<line x1="585.25" y1="199.28" x2="593.55" y2="199.28" stroke="#000" stroke-width="1.3" />
<rect x="587.70" y="198.38" width="3.40" height="1.8" rx="0.8" fill="#000"/>
<rect x="587.70" y="197.97" width="3.40" height="1.8" rx="0.8" fill="#000"/>
<rect x="587.70" y="204.50" width="3.40" height="1.8" rx="0.8" fill="#000"/>
<rect x="587.70" y="183.31" width="3.40" height="1.8" rx="0.8" fill="#000"/>
<rect x="587.70" y="177.60" width="3.40" height="1.8" rx="0.8" fill="#000"/>
<circle cx="589.40" cy="178.50" r="1.15" fill="#000"/>
<line x1="545.80" y1="175.80" x2="764.80" y2="175.80" stroke="#8a8a8a" stroke-width="1.2" />
<line x1="545.80" y1="175.80" x2="545.80" y2="230.40" stroke="#e6e6e6" stroke-width="0.8" />
<line x1="545.80" y1="230.40" x2="764.80" y2="230.40" stroke="#3a3a3a" stroke-width="0.9" />
<line x1="764.80" y1="175.40" x2="764.80" y2="230.80" stroke="#4a4a4a" stroke-width="1.4" />
<rect x="765.70" y="175.80" width="9.60" height="54.60" fill="#d9d9d9" stroke="#808080" stroke-width="1.0" />
<text x="767.60" y="203.10" font-size="9.0" text-anchor="middle" fill="#000" stroke="#000" stroke-width="0.3"  transform="rotate(90 767.60 203.10)">GhABE7.8n</text>
<circle cx="545.10" cy="227.40" r="0.5" fill="#333"/>
<text x="540.80" y="230.40" font-size="8.8" text-anchor="end" fill="#000" stroke="#000" stroke-width="0.3" >0</text>
<circle cx="545.10" cy="211.10" r="0.5" fill="#333"/>
<text x="540.80" y="214.10" font-size="8.8" text-anchor="end" fill="#000" stroke="#000" stroke-width="0.3" >2</text>
<circle cx="545.10" cy="194.80" r="0.5" fill="#333"/>
<text x="540.80" y="197.80" font-size="8.8" text-anchor="end" fill="#000" stroke="#000" stroke-width="0.3" >4</text>
<circle cx="545.10" cy="178.50" r="0.5" fill="#333"/>
<text x="540.80" y="181.50" font-size="8.8" text-anchor="end" fill="#000" stroke="#000" stroke-width="0.3" >6</text>
<line x1="547.00" y1="285.40" x2="764.30" y2="285.40" stroke="#000" stroke-width="1.1" />
<rect x="547.50" y="284.15" width="8.2" height="2.5" rx="1.25" fill="#000"/>
<rect x="556.95" y="284.15" width="8.2" height="2.5" rx="1.25" fill="#000"/>
<rect x="566.40" y="284.15" width="8.2" height="2.5" rx="1.25" fill="#000"/>
<rect x="575.85" y="284.15" width="8.2" height="2.5" rx="1.25" fill="#000"/>
<rect x="594.75" y="284.15" width="8.2" height="2.5" rx="1.25" fill="#000"/>
<rect x="604.20" y="284.15" width="8.2" height="2.5" rx="1.25" fill="#000"/>
<rect x="613.65" y="284.15" width="8.2" height="2.5" rx="1.25" fill="#000"/>
<rect x="623.10" y="284.15" width="8.2" height="2.5" rx="1.25" fill="#000"/>
<rect x="632.55" y="284.15" width="8.2" height="2.5" rx="1.25" fill="#000"/>
<rect x="642.00" y="284.15" width="8.2" height="2.5" rx="1.25" fill="#000"/>
<rect x="651.45" y="284.15" width="8.2" height="2.5" rx="1.25" fill="#000"/>
<rect x="660.90" y="284.15" width="8.2" height="2.5" rx="1.25" fill="#000"/>
<rect x="670.35" y="284.15" width="8.2" height="2.5" rx="1.25" fill="#000"/>
<rect x="679.80" y="284.15" width="8.2" height="2.5" rx="1.25" fill="#000"/>
<rect x="689.25" y="284.15" width="8.2" height="2.5" rx="1.25" fill="#000"/>
<rect x="698.70" y="284.15" width="8.2" height="2.5" rx="1.25" fill="#000"/>
<rect x="708.15" y="284.15" width="8.2" height="2.5" rx="1.25" fill="#000"/>
<rect x="717.60" y="284.15" width="8.2" height="2.5" rx="1.25" fill="#000"/>
<rect x="727.05" y="284.15" width="8.2" height="2.5" rx="1.25" fill="#000"/>
<rect x="736.50" y="284.15" width="8.2" height="2.5" rx="1.25" fill="#000"/>
<rect x="745.95" y="284.15" width="8.2" height="2.5" rx="1.25" fill="#000"/>
<rect x="755.40" y="284.15" width="8.2" height="2.5" rx="1.25" fill="#000"/>
<rect x="584.80" y="283.90" width="9.20" height="3.00" fill="#fff" stroke="none" stroke-width="1" />
<rect x="623.20" y="281.20" width="8" height="3.00" fill="#fff" stroke="#000" stroke-width="1"/>
<line x1="624.20" y1="282.70" x2="630.20" y2="282.70" stroke="#000" stroke-width="1.0" />
<circle cx="627.20" cy="272.00" r="1.2" fill="#000"/>
<rect x="679.90" y="282.20" width="8" height="2.00" fill="#fff" stroke="#000" stroke-width="1"/>
<line x1="680.90" y1="283.20" x2="686.90" y2="283.20" stroke="#000" stroke-width="1.0" />
<circle cx="683.90" cy="276.90" r="1.1" fill="#000"/>
<rect x="727.15" y="281.80" width="8" height="2.40" fill="#fff" stroke="#000" stroke-width="1"/>
<line x1="728.15" y1="283.00" x2="734.15" y2="283.00" stroke="#000" stroke-width="1.0" />
<circle cx="731.15" cy="275.90" r="1.1" fill="#000"/>
<line x1="589.40" y1="236.49" x2="589.40" y2="245.87" stroke="#000" stroke-width="1.2" />
<line x1="589.40" y1="267.85" x2="589.40" y2="269.86" stroke="#000" stroke-width="1.2" />
<rect x="585.25" y="245.87" width="8.30" height="21.98" fill="#66a61e" stroke="#1a1a1a" stroke-width="1.2"/>
<line x1="585.25" y1="261.28" x2="593.55" y2="261.28" stroke="#000" stroke-width="1.3" />
<rect x="587.70" y="252.34" width="3.40" height="1.8" rx="0.8" fill="#000"/>
<rect x="587.70" y="264.40" width="3.40" height="1.8" rx="0.8" fill="#000"/>
<rect x="587.70" y="260.38" width="3.40" height="1.8" rx="0.8" fill="#000"/>
<rect x="587.70" y="268.96" width="3.40" height="1.8" rx="0.8" fill="#000"/>
<rect x="587.70" y="240.28" width="3.40" height="1.8" rx="0.8" fill="#000"/>
<rect x="587.70" y="236.26" width="3.40" height="1.8" rx="0.8" fill="#000"/>
<circle cx="589.40" cy="236.49" r="1.15" fill="#000"/>
<line x1="545.80" y1="233.80" x2="764.80" y2="233.80" stroke="#8a8a8a" stroke-width="1.2" />
<line x1="545.80" y1="233.80" x2="545.80" y2="288.40" stroke="#e6e6e6" stroke-width="0.8" />
<line x1="545.80" y1="288.40" x2="764.80" y2="288.40" stroke="#3a3a3a" stroke-width="0.9" />
<line x1="764.80" y1="233.40" x2="764.80" y2="288.80" stroke="#4a4a4a" stroke-width="1.4" />
<rect x="765.70" y="233.80" width="9.60" height="54.60" fill="#d9d9d9" stroke="#808080" stroke-width="1.0" />
<text x="767.60" y="261.10" font-size="9.0" text-anchor="middle" fill="#000" stroke="#000" stroke-width="0.3"  transform="rotate(90 767.60 261.10)">GhABE7.9d</text>
<circle cx="545.10" cy="285.40" r="0.5" fill="#333"/>
<text x="540.80" y="288.40" font-size="8.8" text-anchor="end" fill="#000" stroke="#000" stroke-width="0.3" >0</text>
<circle cx="545.10" cy="272.00" r="0.5" fill="#333"/>
<text x="540.80" y="275.00" font-size="8.8" text-anchor="end" fill="#000" stroke="#000" stroke-width="0.3" >1</text>
<circle cx="545.10" cy="258.60" r="0.5" fill="#333"/>
<text x="540.80" y="261.60" font-size="8.8" text-anchor="end" fill="#000" stroke="#000" stroke-width="0.3" >2</text>
<circle cx="545.10" cy="245.20" r="0.5" fill="#333"/>
<text x="540.80" y="248.20" font-size="8.8" text-anchor="end" fill="#000" stroke="#000" stroke-width="0.3" >3</text>
<line x1="547.00" y1="343.40" x2="764.30" y2="343.40" stroke="#000" stroke-width="1.1" />
<rect x="547.50" y="342.15" width="8.2" height="2.5" rx="1.25" fill="#000"/>
<rect x="556.95" y="342.15" width="8.2" height="2.5" rx="1.25" fill="#000"/>
<rect x="566.40" y="342.15" width="8.2" height="2.5" rx="1.25" fill="#000"/>
<rect x="575.85" y="342.15" width="8.2" height="2.5" rx="1.25" fill="#000"/>
<rect x="594.75" y="342.15" width="8.2" height="2.5" rx="1.25" fill="#000"/>
<rect x="604.20" y="342.15" width="8.2" height="2.5" rx="1.25" fill="#000"/>
<rect x="613.65" y="342.15" width="8.2" height="2.5" rx="1.25" fill="#000"/>
<rect x="623.10" y="342.15" width="8.2" height="2.5" rx="1.25" fill="#000"/>
<rect x="632.55" y="342.15" width="8.2" height="2.5" rx="1.25" fill="#000"/>
<rect x="642.00" y="342.15" width="8.2" height="2.5" rx="1.25" fill="#000"/>
<rect x="651.45" y="342.15" width="8.2" height="2.5" rx="1.25" fill="#000"/>
<rect x="660.90" y="342.15" width="8.2" height="2.5" rx="1.25" fill="#000"/>
<rect x="670.35" y="342.15" width="8.2" height="2.5" rx="1.25" fill="#000"/>
<rect x="679.80" y="342.15" width="8.2" height="2.5" rx="1.25" fill="#000"/>
<rect x="689.25" y="342.15" width="8.2" height="2.5" rx="1.25" fill="#000"/>
<rect x="698.70" y="342.15" width="8.2" height="2.5" rx="1.25" fill="#000"/>
<rect x="708.15" y="342.15" width="8.2" height="2.5" rx="1.25" fill="#000"/>
<rect x="717.60" y="342.15" width="8.2" height="2.5" rx="1.25" fill="#000"/>
<rect x="727.05" y="342.15" width="8.2" height="2.5" rx="1.25" fill="#000"/>
<rect x="736.50" y="342.15" width="8.2" height="2.5" rx="1.25" fill="#000"/>
<rect x="745.95" y="342.15" width="8.2" height="2.5" rx="1.25" fill="#000"/>
<rect x="755.40" y="342.15" width="8.2" height="2.5" rx="1.25" fill="#000"/>
<path d="M619.80,343.40 Q623.50,339.76 627.20,339.50 Q630.90,339.76 634.60,343.40 Z" fill="#000"/>
<circle cx="627.20" cy="336.40" r="1.2" fill="#000"/>
<path d="M677.90,343.40 Q680.90,341.02 683.90,340.85 Q686.90,341.02 689.90,343.40 Z" fill="#000"/>
<path d="M724.65,343.40 Q727.90,340.32 731.15,340.10 Q734.40,340.32 737.65,343.40 Z" fill="#000"/>
<line x1="589.40" y1="294.53" x2="589.40" y2="299.07" stroke="#000" stroke-width="1.2" />
<line x1="589.40" y1="308.39" x2="589.40" y2="320.53" stroke="#000" stroke-width="1.2" />
<rect x="585.25" y="299.07" width="8.30" height="9.31" fill="#e6ab02" stroke="#1a1a1a" stroke-width="1.2"/>
<line x1="585.25" y1="303.92" x2="593.55" y2="303.92" stroke="#000" stroke-width="1.3" />
<rect x="586.15" y="303.02" width="6.50" height="1.8" rx="0.8" fill="#000"/>
<rect x="586.15" y="301.90" width="6.50" height="1.8" rx="0.8" fill="#000"/>
<rect x="586.15" y="300.78" width="6.50" height="1.8" rx="0.8" fill="#000"/>
<rect x="586.15" y="299.66" width="6.50" height="1.8" rx="0.8" fill="#000"/>
<rect x="586.15" y="298.55" width="6.50" height="1.8" rx="0.8" fill="#000"/>
<rect x="586.15" y="297.06" width="6.50" height="1.8" rx="0.8" fill="#000"/>
<rect x="586.15" y="295.57" width="6.50" height="1.8" rx="0.8" fill="#000"/>
<rect x="586.15" y="294.45" width="6.50" height="1.8" rx="0.8" fill="#000"/>
<rect x="586.15" y="312.70" width="6.50" height="1.8" rx="0.8" fill="#000"/>
<rect x="586.15" y="308.98" width="6.50" height="1.8" rx="0.8" fill="#000"/>
<rect x="586.15" y="307.11" width="6.50" height="1.8" rx="0.8" fill="#000"/>
<circle cx="589.40" cy="294.53" r="1.15" fill="#000"/>
<line x1="545.80" y1="291.80" x2="764.80" y2="291.80" stroke="#8a8a8a" stroke-width="1.2" />
<line x1="545.80" y1="291.80" x2="545.80" y2="346.40" stroke="#e6e6e6" stroke-width="0.8" />
<line x1="545.80" y1="346.40" x2="764.80" y2="346.40" stroke="#3a3a3a" stroke-width="0.9" />
<line x1="764.80" y1="291.40" x2="764.80" y2="346.80" stroke="#4a4a4a" stroke-width="1.4" />
<rect x="765.70" y="291.80" width="9.60" height="54.60" fill="#d9d9d9" stroke="#808080" stroke-width="1.0" />
<text x="767.60" y="319.10" font-size="9.0" text-anchor="middle" fill="#000" stroke="#000" stroke-width="0.3"  transform="rotate(90 767.60 319.10)">GhABE7.9n</text>
<circle cx="545.10" cy="343.40" r="0.5" fill="#333"/>
<text x="540.80" y="346.40" font-size="8.8" text-anchor="end" fill="#000" stroke="#000" stroke-width="0.3" >0</text>
<circle cx="545.10" cy="328.50" r="0.5" fill="#333"/>
<text x="540.80" y="331.50" font-size="8.8" text-anchor="end" fill="#000" stroke="#000" stroke-width="0.3" >2</text>
<circle cx="545.10" cy="313.60" r="0.5" fill="#333"/>
<text x="540.80" y="316.60" font-size="8.8" text-anchor="end" fill="#000" stroke="#000" stroke-width="0.3" >4</text>
<circle cx="545.10" cy="298.70" r="0.5" fill="#333"/>
<text x="540.80" y="301.70" font-size="8.8" text-anchor="end" fill="#000" stroke="#000" stroke-width="0.3" >6</text>
<line x1="547.00" y1="401.40" x2="764.30" y2="401.40" stroke="#000" stroke-width="1.1" />
<rect x="547.50" y="400.15" width="8.2" height="2.5" rx="1.25" fill="#000"/>
<rect x="556.95" y="400.15" width="8.2" height="2.5" rx="1.25" fill="#000"/>
<rect x="566.40" y="400.15" width="8.2" height="2.5" rx="1.25" fill="#000"/>
<rect x="575.85" y="400.15" width="8.2" height="2.5" rx="1.25" fill="#000"/>
<rect x="594.75" y="400.15" width="8.2" height="2.5" rx="1.25" fill="#000"/>
<rect x="604.20" y="400.15" width="8.2" height="2.5" rx="1.25" fill="#000"/>
<rect x="613.65" y="400.15" width="8.2" height="2.5" rx="1.25" fill="#000"/>
<rect x="623.10" y="400.15" width="8.2" height="2.5" rx="1.25" fill="#000"/>
<rect x="632.55" y="400.15" width="8.2" height="2.5" rx="1.25" fill="#000"/>
<rect x="642.00" y="400.15" width="8.2" height="2.5" rx="1.25" fill="#000"/>
<rect x="651.45" y="400.15" width="8.2" height="2.5" rx="1.25" fill="#000"/>
<rect x="660.90" y="400.15" width="8.2" height="2.5" rx="1.25" fill="#000"/>
<rect x="670.35" y="400.15" width="8.2" height="2.5" rx="1.25" fill="#000"/>
<rect x="679.80" y="400.15" width="8.2" height="2.5" rx="1.25" fill="#000"/>
<rect x="689.25" y="400.15" width="8.2" height="2.5" rx="1.25" fill="#000"/>
<rect x="698.70" y="400.15" width="8.2" height="2.5" rx="1.25" fill="#000"/>
<rect x="708.15" y="400.15" width="8.2" height="2.5" rx="1.25" fill="#000"/>
<rect x="717.60" y="400.15" width="8.2" height="2.5" rx="1.25" fill="#000"/>
<rect x="727.05" y="400.15" width="8.2" height="2.5" rx="1.25" fill="#000"/>
<rect x="736.50" y="400.15" width="8.2" height="2.5" rx="1.25" fill="#000"/>
<rect x="745.95" y="400.15" width="8.2" height="2.5" rx="1.25" fill="#000"/>
<rect x="755.40" y="400.15" width="8.2" height="2.5" rx="1.25" fill="#000"/>
<rect x="584.80" y="399.90" width="9.20" height="3.00" fill="#fff" stroke="none" stroke-width="1" />
<path d="M619.80,401.40 Q623.50,397.76 627.20,397.50 Q630.90,397.76 634.60,401.40 Z" fill="#000"/>
<path d="M677.90,401.40 Q680.90,399.02 683.90,398.85 Q686.90,399.02 689.90,401.40 Z" fill="#000"/>
<path d="M724.65,401.40 Q727.90,398.32 731.15,398.10 Q734.40,398.32 737.65,401.40 Z" fill="#000"/>
<line x1="589.40" y1="352.47" x2="589.40" y2="367.66" stroke="#000" stroke-width="1.2" />
<line x1="589.40" y1="380.51" x2="589.40" y2="393.80" stroke="#000" stroke-width="1.2" />
<rect x="585.25" y="367.66" width="8.30" height="12.85" fill="#a6761d" stroke="#1a1a1a" stroke-width="1.2"/>
<line x1="585.25" y1="379.56" x2="593.55" y2="379.56" stroke="#000" stroke-width="1.3" />
<rect x="587.70" y="372.65" width="3.40" height="1.8" rx="0.8" fill="#000"/>
<rect x="587.70" y="361.25" width="3.40" height="1.8" rx="0.8" fill="#000"/>
<rect x="587.70" y="378.98" width="3.40" height="1.8" rx="0.8" fill="#000"/>
<rect x="587.70" y="378.66" width="3.40" height="1.8" rx="0.8" fill="#000"/>
<rect x="587.70" y="366.95" width="3.40" height="1.8" rx="0.8" fill="#000"/>
<rect x="587.70" y="387.84" width="3.40" height="1.8" rx="0.8" fill="#000"/>
<rect x="587.70" y="392.90" width="3.40" height="1.8" rx="0.8" fill="#000"/>
<circle cx="589.40" cy="352.47" r="1.15" fill="#000"/>
<line x1="545.80" y1="349.80" x2="764.80" y2="349.80" stroke="#8a8a8a" stroke-width="1.2" />
<line x1="545.80" y1="349.80" x2="545.80" y2="404.40" stroke="#e6e6e6" stroke-width="0.8" />
<line x1="545.80" y1="404.40" x2="764.80" y2="404.40" stroke="#3a3a3a" stroke-width="0.9" />
<line x1="764.80" y1="349.40" x2="764.80" y2="404.80" stroke="#4a4a4a" stroke-width="1.4" />
<rect x="765.70" y="349.80" width="9.60" height="54.60" fill="#d9d9d9" stroke="#808080" stroke-width="1.0" />
<text x="767.60" y="377.10" font-size="9.0" text-anchor="middle" fill="#000" stroke="#000" stroke-width="0.3"  transform="rotate(90 767.60 377.10)">GhABE7.10d</text>
<circle cx="545.10" cy="401.40" r="0.5" fill="#333"/>
<text x="540.80" y="404.40" font-size="8.8" text-anchor="end" fill="#000" stroke="#000" stroke-width="0.3" >0</text>
<circle cx="545.10" cy="388.74" r="0.5" fill="#333"/>
<text x="540.80" y="391.74" font-size="8.8" text-anchor="end" fill="#000" stroke="#000" stroke-width="0.3" >2</text>
<circle cx="545.10" cy="376.08" r="0.5" fill="#333"/>
<text x="540.80" y="379.08" font-size="8.8" text-anchor="end" fill="#000" stroke="#000" stroke-width="0.3" >4</text>
<circle cx="545.10" cy="363.42" r="0.5" fill="#333"/>
<text x="540.80" y="366.42" font-size="8.8" text-anchor="end" fill="#000" stroke="#000" stroke-width="0.3" >6</text>
<circle cx="545.10" cy="350.76" r="0.5" fill="#333"/>
<text x="540.80" y="353.76" font-size="8.8" text-anchor="end" fill="#000" stroke="#000" stroke-width="0.3" >8</text>
<line x1="547.00" y1="459.40" x2="764.30" y2="459.40" stroke="#000" stroke-width="1.1" />
<rect x="547.50" y="458.15" width="8.2" height="2.5" rx="1.25" fill="#000"/>
<rect x="556.95" y="458.15" width="8.2" height="2.5" rx="1.25" fill="#000"/>
<rect x="566.40" y="458.15" width="8.2" height="2.5" rx="1.25" fill="#000"/>
<rect x="575.85" y="458.15" width="8.2" height="2.5" rx="1.25" fill="#000"/>
<rect x="594.75" y="458.15" width="8.2" height="2.5" rx="1.25" fill="#000"/>
<rect x="604.20" y="458.15" width="8.2" height="2.5" rx="1.25" fill="#000"/>
<rect x="613.65" y="458.15" width="8.2" height="2.5" rx="1.25" fill="#000"/>
<rect x="623.10" y="458.15" width="8.2" height="2.5" rx="1.25" fill="#000"/>
<rect x="632.55" y="458.15" width="8.2" height="2.5" rx="1.25" fill="#000"/>
<rect x="642.00" y="458.15" width="8.2" height="2.5" rx="1.25" fill="#000"/>
<rect x="651.45" y="458.15" width="8.2" height="2.5" rx="1.25" fill="#000"/>
<rect x="660.90" y="458.15" width="8.2" height="2.5" rx="1.25" fill="#000"/>
<rect x="670.35" y="458.15" width="8.2" height="2.5" rx="1.25" fill="#000"/>
<rect x="679.80" y="458.15" width="8.2" height="2.5" rx="1.25" fill="#000"/>
<rect x="689.25" y="458.15" width="8.2" height="2.5" rx="1.25" fill="#000"/>
<rect x="698.70" y="458.15" width="8.2" height="2.5" rx="1.25" fill="#000"/>
<rect x="708.15" y="458.15" width="8.2" height="2.5" rx="1.25" fill="#000"/>
<rect x="717.60" y="458.15" width="8.2" height="2.5" rx="1.25" fill="#000"/>
<rect x="727.05" y="458.15" width="8.2" height="2.5" rx="1.25" fill="#000"/>
<rect x="736.50" y="458.15" width="8.2" height="2.5" rx="1.25" fill="#000"/>
<rect x="745.95" y="458.15" width="8.2" height="2.5" rx="1.25" fill="#000"/>
<rect x="755.40" y="458.15" width="8.2" height="2.5" rx="1.25" fill="#000"/>
<line x1="589.40" y1="415.38" x2="589.40" y2="435.26" stroke="#000" stroke-width="1.2" />
<line x1="589.40" y1="450.53" x2="589.40" y2="456.56" stroke="#000" stroke-width="1.2" />
<rect x="585.25" y="435.26" width="8.30" height="15.26" fill="#666666" stroke="#1a1a1a" stroke-width="1.2"/>
<line x1="585.25" y1="443.78" x2="593.55" y2="443.78" stroke="#000" stroke-width="1.3" />
<rect x="586.00" y="415.90" width="6.80" height="1.8" rx="0.8" fill="#000"/>
<rect x="586.00" y="424.42" width="6.80" height="1.8" rx="0.8" fill="#000"/>
<rect x="586.00" y="429.39" width="6.80" height="1.8" rx="0.8" fill="#000"/>
<rect x="586.00" y="430.46" width="6.80" height="1.8" rx="0.8" fill="#000"/>
<rect x="586.00" y="431.52" width="6.80" height="1.8" rx="0.8" fill="#000"/>
<rect x="586.00" y="435.78" width="6.80" height="1.8" rx="0.8" fill="#000"/>
<rect x="586.00" y="438.62" width="6.80" height="1.8" rx="0.8" fill="#000"/>
<rect x="586.00" y="441.46" width="6.80" height="1.8" rx="0.8" fill="#000"/>
<rect x="586.00" y="444.30" width="6.80" height="1.8" rx="0.8" fill="#000"/>
<rect x="586.00" y="446.43" width="6.80" height="1.8" rx="0.8" fill="#000"/>
<rect x="586.00" y="449.98" width="6.80" height="1.8" rx="0.8" fill="#000"/>
<rect x="586.00" y="452.82" width="6.80" height="1.8" rx="0.8" fill="#000"/>
<rect x="586.00" y="454.60" width="6.80" height="1.8" rx="0.8" fill="#000"/>
<circle cx="589.40" cy="415.38" r="1.15" fill="#000"/>
<rect x="584.40" y="455.76" width="10.00" height="1.80" fill="#000" stroke="none" stroke-width="1" />
<circle cx="589.40" cy="410.91" r="1.2" fill="#000"/>
<line x1="545.80" y1="407.80" x2="764.80" y2="407.80" stroke="#8a8a8a" stroke-width="1.2" />
<line x1="545.80" y1="407.80" x2="545.80" y2="462.40" stroke="#e6e6e6" stroke-width="0.8" />
<line x1="545.80" y1="462.40" x2="764.80" y2="462.40" stroke="#d0d0d0" stroke-width="0.9" />
<line x1="764.80" y1="407.40" x2="764.80" y2="462.80" stroke="#4a4a4a" stroke-width="1.4" />
<rect x="765.70" y="407.80" width="9.60" height="54.60" fill="#d9d9d9" stroke="#808080" stroke-width="1.0" />
<text x="767.60" y="435.10" font-size="9.0" text-anchor="middle" fill="#000" stroke="#000" stroke-width="0.3"  transform="rotate(90 767.60 435.10)">GhABE7.10n</text>
<circle cx="545.10" cy="459.40" r="0.5" fill="#333"/>
<text x="540.80" y="462.40" font-size="8.8" text-anchor="end" fill="#000" stroke="#000" stroke-width="0.3" >0</text>
<circle cx="545.10" cy="445.20" r="0.5" fill="#333"/>
<text x="540.80" y="448.20" font-size="8.8" text-anchor="end" fill="#000" stroke="#000" stroke-width="0.3" >20</text>
<circle cx="545.10" cy="431.00" r="0.5" fill="#333"/>
<text x="540.80" y="434.00" font-size="8.8" text-anchor="end" fill="#000" stroke="#000" stroke-width="0.3" >40</text>
<circle cx="545.10" cy="416.80" r="0.5" fill="#333"/>
<text x="540.80" y="419.80" font-size="8.8" text-anchor="end" fill="#000" stroke="#000" stroke-width="0.3" >60</text>
<circle cx="551.60" cy="463.40" r="0.5" fill="#333"/>
<text x="551.90" y="472.70" font-size="9.8" text-anchor="middle" fill="#000" stroke="#000" stroke-width="0.3" >T</text>
<text x="556.50" y="476.20" font-size="5.5" text-anchor="middle" fill="#222"  >1</text>
<circle cx="561.05" cy="463.40" r="0.5" fill="#333"/>
<text x="561.35" y="472.70" font-size="9.8" text-anchor="middle" fill="#000" stroke="#000" stroke-width="0.3" >C</text>
<text x="565.95" y="476.20" font-size="5.5" text-anchor="middle" fill="#222"  >2</text>
<circle cx="570.50" cy="463.40" r="0.5" fill="#333"/>
<text x="570.80" y="472.70" font-size="9.8" text-anchor="middle" fill="#000" stroke="#000" stroke-width="0.3" >C</text>
<text x="575.40" y="476.20" font-size="5.5" text-anchor="middle" fill="#222"  >3</text>
<circle cx="579.95" cy="463.40" r="0.5" fill="#333"/>
<text x="580.25" y="472.70" font-size="9.8" text-anchor="middle" fill="#000" stroke="#000" stroke-width="0.3" >T</text>
<text x="584.85" y="476.20" font-size="5.5" text-anchor="middle" fill="#222"  >4</text>
<circle cx="589.40" cy="463.40" r="0.5" fill="#333"/>
<text x="589.70" y="472.70" font-size="9.8" text-anchor="middle" fill="#000" stroke="#000" stroke-width="0.3" >A</text>
<text x="594.30" y="476.20" font-size="5.5" text-anchor="middle" fill="#222"  >5</text>
<circle cx="598.85" cy="463.40" r="0.5" fill="#333"/>
<text x="599.15" y="472.70" font-size="9.8" text-anchor="middle" fill="#000" stroke="#000" stroke-width="0.3" >G</text>
<text x="603.75" y="476.20" font-size="5.5" text-anchor="middle" fill="#222"  >6</text>
<circle cx="608.30" cy="463.40" r="0.5" fill="#333"/>
<text x="608.60" y="472.70" font-size="9.8" text-anchor="middle" fill="#000" stroke="#000" stroke-width="0.3" >T</text>
<text x="613.20" y="476.20" font-size="5.5" text-anchor="middle" fill="#222"  >7</text>
<circle cx="617.75" cy="463.40" r="0.5" fill="#333"/>
<text x="618.05" y="472.70" font-size="9.8" text-anchor="middle" fill="#000" stroke="#000" stroke-width="0.3" >G</text>
<text x="622.65" y="476.20" font-size="5.5" text-anchor="middle" fill="#222"  >8</text>
<circle cx="627.20" cy="463.40" r="0.5" fill="#333"/>
<text x="627.50" y="472.70" font-size="9.8" text-anchor="middle" fill="#000" stroke="#000" stroke-width="0.3" >A</text>
<text x="632.10" y="476.20" font-size="5.5" text-anchor="middle" fill="#222"  >9</text>
<circle cx="636.65" cy="463.40" r="0.5" fill="#333"/>
<text x="636.95" y="472.70" font-size="9.8" text-anchor="middle" fill="#000" stroke="#000" stroke-width="0.3" >C</text>
<text x="641.55" y="476.20" font-size="5.5" text-anchor="middle" fill="#222"  >10</text>
<circle cx="646.10" cy="463.40" r="0.5" fill="#333"/>
<text x="646.40" y="472.70" font-size="9.8" text-anchor="middle" fill="#000" stroke="#000" stroke-width="0.3" >C</text>
<text x="651.00" y="476.20" font-size="5.5" text-anchor="middle" fill="#222"  >11</text>
<circle cx="655.55" cy="463.40" r="0.5" fill="#333"/>
<text x="655.85" y="472.70" font-size="9.8" text-anchor="middle" fill="#000" stroke="#000" stroke-width="0.3" >C</text>
<text x="660.45" y="476.20" font-size="5.5" text-anchor="middle" fill="#222"  >12</text>
<circle cx="665.00" cy="463.40" r="0.5" fill="#333"/>
<text x="665.30" y="472.70" font-size="9.8" text-anchor="middle" fill="#000" stroke="#000" stroke-width="0.3" >T</text>
<text x="669.90" y="476.20" font-size="5.5" text-anchor="middle" fill="#222"  >13</text>
<circle cx="674.45" cy="463.40" r="0.5" fill="#333"/>
<text x="674.75" y="472.70" font-size="9.8" text-anchor="middle" fill="#000" stroke="#000" stroke-width="0.3" >T</text>
<text x="679.35" y="476.20" font-size="5.5" text-anchor="middle" fill="#222"  >14</text>
<circle cx="683.90" cy="463.40" r="0.5" fill="#333"/>
<text x="684.20" y="472.70" font-size="9.8" text-anchor="middle" fill="#000" stroke="#000" stroke-width="0.3" >A</text>
<text x="688.80" y="476.20" font-size="5.5" text-anchor="middle" fill="#222"  >15</text>
<circle cx="693.35" cy="463.40" r="0.5" fill="#333"/>
<text x="693.65" y="472.70" font-size="9.8" text-anchor="middle" fill="#000" stroke="#000" stroke-width="0.3" >C</text>
<text x="698.25" y="476.20" font-size="5.5" text-anchor="middle" fill="#222"  >16</text>
<circle cx="702.80" cy="463.40" r="0.5" fill="#333"/>
<text x="703.10" y="472.70" font-size="9.8" text-anchor="middle" fill="#000" stroke="#000" stroke-width="0.3" >C</text>
<text x="707.70" y="476.20" font-size="5.5" text-anchor="middle" fill="#222"  >17</text>
<circle cx="712.25" cy="463.40" r="0.5" fill="#333"/>
<text x="712.55" y="472.70" font-size="9.8" text-anchor="middle" fill="#000" stroke="#000" stroke-width="0.3" >T</text>
<text x="717.15" y="476.20" font-size="5.5" text-anchor="middle" fill="#222"  >18</text>
<circle cx="721.70" cy="463.40" r="0.5" fill="#333"/>
<text x="722.00" y="472.70" font-size="9.8" text-anchor="middle" fill="#000" stroke="#000" stroke-width="0.3" >G</text>
<text x="726.60" y="476.20" font-size="5.5" text-anchor="middle" fill="#222"  >19</text>
<circle cx="731.15" cy="463.40" r="0.5" fill="#333"/>
<text x="731.45" y="472.70" font-size="9.8" text-anchor="middle" fill="#000" stroke="#000" stroke-width="0.3" >A</text>
<text x="736.05" y="476.20" font-size="5.5" text-anchor="middle" fill="#222"  >20</text>
<circle cx="740.60" cy="463.40" r="0.5" fill="#333"/>
<text x="740.90" y="472.70" font-size="9.8" text-anchor="middle" fill="#000" stroke="#000" stroke-width="0.3" >G</text>
<text x="745.50" y="476.20" font-size="5.5" text-anchor="middle" fill="#222"  >21</text>
<circle cx="750.05" cy="463.40" r="0.5" fill="#333"/>
<text x="750.35" y="472.70" font-size="9.8" text-anchor="middle" fill="#000" stroke="#000" stroke-width="0.3" >G</text>
<text x="754.95" y="476.20" font-size="5.5" text-anchor="middle" fill="#222"  >22</text>
<circle cx="759.50" cy="463.40" r="0.5" fill="#333"/>
<text x="759.80" y="472.70" font-size="9.8" text-anchor="middle" fill="#000" stroke="#000" stroke-width="0.3" >G</text>
<text x="764.40" y="476.20" font-size="5.5" text-anchor="middle" fill="#222"  >23</text>
<text x="659.90" y="484.70" font-size="10.1" text-anchor="middle" fill="#000" stroke="#000" stroke-width="0.3" >sgRNA2 site</text>
<text x="530.60" y="224.20" font-size="10.3" text-anchor="middle" fill="#000" stroke="#000" stroke-width="0.3"  transform="rotate(-90 530.60 224.20)">Total alleles frequency (%) with target A&#183;T base pair converted to G&#183;C</text>
<text x="519.60" y="11.60" font-size="15" text-anchor="start" fill="#000"  >C</text>
</svg>
</body></html>
